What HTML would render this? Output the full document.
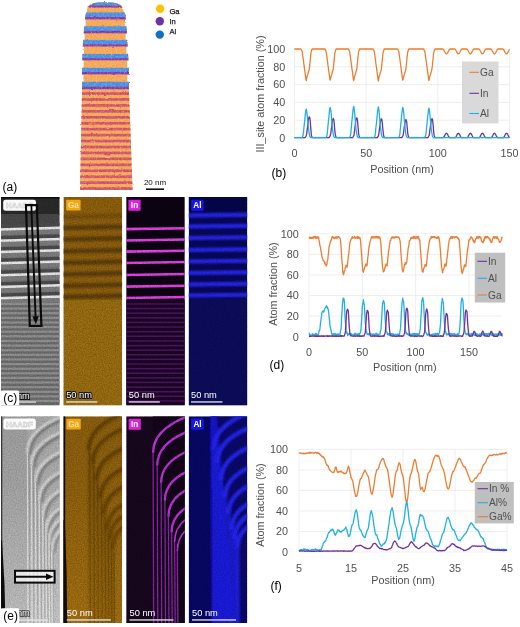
<!DOCTYPE html>
<html><head><meta charset="utf-8"><title>Figure</title>
<style>
html,body{margin:0;padding:0;background:#fff;}
body{width:520px;height:627px;overflow:hidden;}
svg{display:block;font-family:"Liberation Sans",sans-serif;}
</style></head><body>
<svg width="520" height="627" viewBox="0 0 520 627">
<defs>
<filter id="noise" x="0" y="0" width="100%" height="100%">
<feTurbulence type="fractalNoise" baseFrequency="0.85" numOctaves="2" seed="4" result="t"/>
<feColorMatrix type="matrix" values="0 0 0 0 0  0 0 0 0 0  0 0 0 0 0  1.6 0 0 0 -0.45"/>
</filter>
<filter id="noisew" x="0" y="0" width="100%" height="100%">
<feTurbulence type="fractalNoise" baseFrequency="0.55" numOctaves="2" seed="9" result="t"/>
<feColorMatrix type="matrix" values="0 0 0 0 1  0 0 0 0 1  0 0 0 0 1  0 1.6 0 0 -0.5"/>
</filter>
<filter id="b04"><feGaussianBlur stdDeviation="0.45"/></filter>
<filter id="b05"><feGaussianBlur stdDeviation="0.5"/></filter>
<filter id="b08"><feGaussianBlur stdDeviation="0.8"/></filter>
<filter id="b12"><feGaussianBlur stdDeviation="1.2"/></filter>
<filter id="rough" x="-5%" y="-5%" width="110%" height="110%">
<feTurbulence type="fractalNoise" baseFrequency="0.45" numOctaves="2" seed="2" result="t"/>
<feDisplacementMap in="SourceGraphic" in2="t" scale="2.0" xChannelSelector="R" yChannelSelector="G"/>
</filter>
<filter id="wavy" x="-5%" y="-5%" width="110%" height="110%">
<feTurbulence type="fractalNoise" baseFrequency="0.07 0.15" numOctaves="1" seed="5" result="t"/>
<feDisplacementMap in="SourceGraphic" in2="t" scale="2.2" xChannelSelector="R" yChannelSelector="G"/>
</filter>
<clipPath id="wire"><path d="M87.5,8 Q89,4 97,2.6 Q105,1.6 113,2.6 Q121,4 122.6,8 L125.5,15 L126.6,29 L127.4,42 L128.2,56 L129,70 L129,92 L132.6,190 L80,190 L82,92 L82,70 L82.4,56 L83,42 L84,29 L85.5,15 Z"/></clipPath>

<clipPath id="cch"><rect x="1.0" y="197.0" width="58.6" height="208.3"/></clipPath>
<clipPath id="ceh"><rect x="1.0" y="416.3" width="58.6" height="206.7"/></clipPath>
<clipPath id="ccg"><rect x="63.5" y="197.0" width="58.6" height="208.3"/></clipPath>
<clipPath id="ceg"><rect x="63.5" y="416.3" width="58.6" height="206.7"/></clipPath>
<clipPath id="cci"><rect x="126.2" y="197.0" width="58.6" height="208.3"/></clipPath>
<clipPath id="cei"><rect x="126.2" y="416.3" width="58.6" height="206.7"/></clipPath>
<clipPath id="cca"><rect x="188.7" y="197.0" width="58.6" height="208.3"/></clipPath>
<clipPath id="cea"><rect x="188.7" y="416.3" width="58.6" height="206.7"/></clipPath>
<linearGradient id="gdown" x1="0" y1="0" x2="0" y2="1"><stop offset="0" stop-color="#fff" stop-opacity="0"/><stop offset="0.3" stop-color="#fff" stop-opacity="0.04"/><stop offset="1" stop-color="#fff" stop-opacity="0.36"/></linearGradient>
<linearGradient id="gdown2" x1="0" y1="0" x2="0" y2="1"><stop offset="0" stop-color="#ffb020" stop-opacity="0"/><stop offset="0.35" stop-color="#ffb020" stop-opacity="0.03"/><stop offset="1" stop-color="#ffb020" stop-opacity="0.22"/></linearGradient>
</defs>
<rect width="520" height="627" fill="#fff"/>
<g filter="url(#b04)"><g filter="url(#rough)"><g clip-path="url(#wire)">
<rect x="70" y="0" width="75" height="195" fill="#f6a24e"/>
<rect x="70" y="2.2" width="75" height="3.4" fill="#3f8be0"/>
<rect x="70" y="5.4" width="75" height="2.2" fill="#7b33a6"/>
<rect x="70" y="12.4" width="75" height="4.8" fill="#3f8be0"/>
<rect x="70" y="17.0" width="75" height="2.4" fill="#7b33a6"/>
<rect x="70" y="26.3" width="75" height="4.8" fill="#3f8be0"/>
<rect x="70" y="30.9" width="75" height="2.4" fill="#7b33a6"/>
<rect x="70" y="39.9" width="75" height="4.5" fill="#3f8be0"/>
<rect x="70" y="44.2" width="75" height="2.3" fill="#7b33a6"/>
<rect x="70" y="53.9" width="75" height="4.4" fill="#3f8be0"/>
<rect x="70" y="58.1" width="75" height="2.2" fill="#7b33a6"/>
<rect x="70" y="67.8" width="75" height="4.4" fill="#3f8be0"/>
<rect x="70" y="72.0" width="75" height="2.4" fill="#7b33a6"/>
<rect x="70" y="81.8" width="75" height="5.1" fill="#3f8be0"/>
<rect x="70" y="86.7" width="75" height="2.5" fill="#7b33a6"/>
<g filter="url(#wavy)">
<rect x="60" y="92.2" width="95" height="2.7" fill="#cb4a64"/>
<rect x="60" y="98.1" width="95" height="2.7" fill="#cb4a64"/>
<rect x="60" y="104.1" width="95" height="2.7" fill="#cb4a64"/>
<rect x="60" y="110.0" width="95" height="2.7" fill="#cb4a64"/>
<rect x="60" y="116.0" width="95" height="2.7" fill="#cb4a64"/>
<rect x="60" y="121.9" width="95" height="2.7" fill="#cb4a64"/>
<rect x="60" y="127.8" width="95" height="2.7" fill="#cb4a64"/>
<rect x="60" y="133.8" width="95" height="2.7" fill="#cb4a64"/>
<rect x="60" y="139.7" width="95" height="2.7" fill="#cb4a64"/>
<rect x="60" y="145.7" width="95" height="2.7" fill="#cb4a64"/>
<rect x="60" y="151.6" width="95" height="2.7" fill="#cb4a64"/>
<rect x="60" y="157.5" width="95" height="2.7" fill="#cb4a64"/>
<rect x="60" y="163.5" width="95" height="2.7" fill="#cb4a64"/>
<rect x="60" y="169.4" width="95" height="2.7" fill="#cb4a64"/>
<rect x="60" y="175.4" width="95" height="2.7" fill="#cb4a64"/>
<rect x="60" y="181.3" width="95" height="2.7" fill="#cb4a64"/>
<rect x="60" y="187.2" width="95" height="2.7" fill="#cb4a64"/>
</g>
</g>
<rect x="83.9" y="8.1" width="3.2" height="4.0" fill="#fff"/>
<rect x="123.7" y="8.1" width="3.2" height="4.0" fill="#fff"/>
<rect x="82.4" y="19.9" width="3.2" height="6.1" fill="#fff"/>
<rect x="124.8" y="19.9" width="3.2" height="6.1" fill="#fff"/>
<rect x="81.4" y="33.8" width="3.2" height="5.8" fill="#fff"/>
<rect x="125.6" y="33.8" width="3.2" height="5.8" fill="#fff"/>
<rect x="80.8" y="47.0" width="3.2" height="6.6" fill="#fff"/>
<rect x="126.4" y="47.0" width="3.2" height="6.6" fill="#fff"/>
<rect x="80.4" y="60.8" width="3.2" height="6.7" fill="#fff"/>
<rect x="127.2" y="60.8" width="3.2" height="6.7" fill="#fff"/>
<rect x="80.4" y="74.9" width="3.2" height="6.6" fill="#fff"/>
<rect x="127.2" y="74.9" width="3.2" height="6.6" fill="#fff"/>
</g></g>
<rect x="70" y="0" width="75" height="195" fill="#fff" filter="url(#noisew)" opacity="0.3" clip-path="url(#wire)"/>
<circle cx="160.1" cy="8.7" r="4.2" fill="#ffc000" filter="url(#b04)"/>
<text x="169.4" y="13.6" font-size="7.6" fill="#1a1a1a" stroke="#1a1a1a" stroke-width="0.25">Ga</text>
<circle cx="159.8" cy="21.3" r="4.2" fill="#7030a0" filter="url(#b04)"/>
<text x="169.4" y="23.7" font-size="7.6" fill="#1a1a1a" stroke="#1a1a1a" stroke-width="0.25">In</text>
<circle cx="159.8" cy="34.6" r="4.2" fill="#0f6fc6" filter="url(#b04)"/>
<text x="169.4" y="34.4" font-size="7.6" fill="#1a1a1a" stroke="#1a1a1a" stroke-width="0.25">Al</text>
<text x="155" y="185" text-anchor="middle" font-size="8" fill="#111">20 nm</text>
<rect x="146" y="188.4" width="18" height="1.6" fill="#111"/>
<text x="2.6" y="191.4" font-size="12" fill="#000">(a)</text>
<g clip-path="url(#cch)">
<rect x="1.0" y="197.0" width="58.6" height="208.3" fill="#727272"/>
<rect x="1.0" y="197.0" width="58.6" height="18" fill="#2b2b2b"/>
<rect x="1.0" y="214.0" width="58.6" height="11" fill="#4a4a4a"/>
<rect x="1.0" y="197.0" width="58.6" height="1.6" fill="#101010"/>
<rect x="1.0" y="300" width="58.6" height="106" fill="#6f6f6f"/>
<g filter="url(#b05)">
<g transform="rotate(-1.6 31.0 228.8)">
<rect x="-1.0" y="223.9" width="62.6" height="3.4" fill="#4e4e4e"/>
<rect x="-1.0" y="229.9" width="62.6" height="4.5" fill="#808080"/>
<rect x="-1.0" y="227.4" width="62.6" height="2.5" fill="#f0f0f0"/>
</g>
<g transform="rotate(-1.6 31.0 240.0)">
<rect x="-1.0" y="235.2" width="62.6" height="3.4" fill="#4e4e4e"/>
<rect x="-1.0" y="241.2" width="62.6" height="4.5" fill="#808080"/>
<rect x="-1.0" y="238.7" width="62.6" height="2.5" fill="#f0f0f0"/>
</g>
<g transform="rotate(-1.6 31.0 251.2)">
<rect x="-1.0" y="246.4" width="62.6" height="3.4" fill="#4e4e4e"/>
<rect x="-1.0" y="252.4" width="62.6" height="4.5" fill="#808080"/>
<rect x="-1.0" y="249.9" width="62.6" height="2.5" fill="#f0f0f0"/>
</g>
<g transform="rotate(-1.6 31.0 262.5)">
<rect x="-1.0" y="257.7" width="62.6" height="3.4" fill="#4e4e4e"/>
<rect x="-1.0" y="263.7" width="62.6" height="4.5" fill="#808080"/>
<rect x="-1.0" y="261.2" width="62.6" height="2.5" fill="#f0f0f0"/>
</g>
<g transform="rotate(-1.6 31.0 274.5)">
<rect x="-1.0" y="269.7" width="62.6" height="3.4" fill="#4e4e4e"/>
<rect x="-1.0" y="275.7" width="62.6" height="4.5" fill="#808080"/>
<rect x="-1.0" y="273.2" width="62.6" height="2.5" fill="#f0f0f0"/>
</g>
<g transform="rotate(-1.6 31.0 286.2)">
<rect x="-1.0" y="281.4" width="62.6" height="3.4" fill="#4e4e4e"/>
<rect x="-1.0" y="287.4" width="62.6" height="4.5" fill="#808080"/>
<rect x="-1.0" y="284.9" width="62.6" height="2.5" fill="#f0f0f0"/>
</g>
<g transform="rotate(-1.6 31.0 297.5)">
<rect x="-1.0" y="292.7" width="62.6" height="3.4" fill="#4e4e4e"/>
<rect x="-1.0" y="298.7" width="62.6" height="4.5" fill="#808080"/>
<rect x="-1.0" y="296.2" width="62.6" height="2.5" fill="#f0f0f0"/>
</g>
<rect x="-1.0" y="302.9" width="62.6" height="2.2" fill="#969696"/>
<rect x="-1.0" y="307.5" width="62.6" height="2.2" fill="#969696"/>
<rect x="-1.0" y="312.1" width="62.6" height="2.2" fill="#969696"/>
<rect x="-1.0" y="316.8" width="62.6" height="2.2" fill="#969696"/>
<rect x="-1.0" y="321.4" width="62.6" height="2.2" fill="#969696"/>
<rect x="-1.0" y="326.0" width="62.6" height="2.2" fill="#969696"/>
<rect x="-1.0" y="330.6" width="62.6" height="2.2" fill="#969696"/>
<rect x="-1.0" y="335.2" width="62.6" height="2.2" fill="#969696"/>
<rect x="-1.0" y="339.9" width="62.6" height="2.2" fill="#969696"/>
<rect x="-1.0" y="344.5" width="62.6" height="2.2" fill="#969696"/>
<rect x="-1.0" y="349.1" width="62.6" height="2.2" fill="#969696"/>
<rect x="-1.0" y="353.7" width="62.6" height="2.2" fill="#969696"/>
<rect x="-1.0" y="358.3" width="62.6" height="2.2" fill="#969696"/>
<rect x="-1.0" y="363.0" width="62.6" height="2.2" fill="#969696"/>
<rect x="-1.0" y="367.6" width="62.6" height="2.2" fill="#969696"/>
<rect x="-1.0" y="372.2" width="62.6" height="2.2" fill="#969696"/>
<rect x="-1.0" y="376.8" width="62.6" height="2.2" fill="#969696"/>
<rect x="-1.0" y="381.4" width="62.6" height="2.2" fill="#969696"/>
<rect x="-1.0" y="386.1" width="62.6" height="2.2" fill="#969696"/>
<rect x="-1.0" y="390.7" width="62.6" height="2.2" fill="#969696"/>
<rect x="-1.0" y="395.3" width="62.6" height="2.2" fill="#969696"/>
<rect x="-1.0" y="399.9" width="62.6" height="2.2" fill="#969696"/>
</g>
<rect x="1.0" y="197.0" width="58.6" height="208.3" filter="url(#noise)" opacity="0.2"/>
<rect x="3.2" y="199.7" width="32.8" height="11.1" rx="2.4" fill="#fafafa"/>
<text x="19.4" y="208.4" text-anchor="middle" font-size="7.6" font-weight="bold" fill="#fafafa" stroke="#c8c8c8" stroke-width="0.5">HAADF</text>
<path d="M26.0,205.2 L36.8,205.2 L41.4,326 L29.8,326 Z" fill="none" stroke="#0a0a0a" stroke-width="2.2"/>
<line x1="31.3" y1="205" x2="35.6" y2="318" stroke="#0a0a0a" stroke-width="1.9"/>
<path d="M32.4,316.6 L38.8,316.2 L35.8,324.2 Z" fill="#0a0a0a"/>
<rect x="27.4" y="206.6" width="2.8" height="3.6" fill="#f4f4f4"/>
<text x="16.9" y="398.6" font-size="9.3" fill="#fff" stroke="#111" stroke-width="1.8" paint-order="stroke">nm</text>
<rect x="5" y="401.3" width="31" height="1.5" fill="#cfcfcf"/>
<rect x="0.8" y="390.6" width="18.4" height="15.4" rx="1.5" fill="#fff"/>
<text x="3.3" y="402.3" font-size="12" fill="#000">(c)</text>
</g>
<g clip-path="url(#ccg)">
<rect x="63.5" y="197.0" width="58.6" height="208.3" fill="#94640f"/>
<rect x="63.5" y="300" width="58.6" height="106" fill="#a07212"/>
<g filter="url(#b08)">
<rect x="61.5" y="214.0" width="62.6" height="4.6" fill="#5e3e07" opacity="0.45" transform="rotate(-1.2 93.5 215.0)"/>
<rect x="61.5" y="225.0" width="62.6" height="4.6" fill="#5e3e07" opacity="0.95" transform="rotate(-1.2 93.5 226.0)"/>
<rect x="61.5" y="236.5" width="62.6" height="4.6" fill="#5e3e07" opacity="0.95" transform="rotate(-1.2 93.5 237.5)"/>
<rect x="61.5" y="248.5" width="62.6" height="4.6" fill="#5e3e07" opacity="0.95" transform="rotate(-1.2 93.5 249.5)"/>
<rect x="61.5" y="260.0" width="62.6" height="4.6" fill="#5e3e07" opacity="0.95" transform="rotate(-1.2 93.5 261.0)"/>
<rect x="61.5" y="271.5" width="62.6" height="4.6" fill="#5e3e07" opacity="0.95" transform="rotate(-1.2 93.5 272.5)"/>
<rect x="61.5" y="283.0" width="62.6" height="4.6" fill="#5e3e07" opacity="0.95" transform="rotate(-1.2 93.5 284.0)"/>
<rect x="61.5" y="294.0" width="62.6" height="4.6" fill="#5e3e07" opacity="0.95" transform="rotate(-1.2 93.5 295.0)"/>
</g>
<rect x="63.5" y="197.0" width="58.6" height="208.3" filter="url(#noise)" opacity="0.28"/>
<rect x="66.2" y="199.8" width="14.4" height="10.8" rx="0.8" fill="#f0a818"/>
<text x="73.4" y="208.0" text-anchor="middle" font-size="8.2" font-weight="bold" fill="#ffdf9a">Ga</text>
<text x="66.2" y="398.4" font-size="9.3" fill="#fff" stroke="#111" stroke-width="2" paint-order="stroke" stroke-linejoin="round">50 nm</text>
<rect x="66.2" y="401.3" width="31.0" height="1.3" fill="#e6e6e6"/>
</g>
<g clip-path="url(#cci)">
<rect x="126.2" y="197.0" width="58.6" height="208.3" fill="#0e0414"/>
<rect x="126.2" y="300" width="58.6" height="106" fill="#1c0726"/>
<g filter="url(#b05)">
<rect x="124.2" y="227.4" width="62.6" height="2.6" fill="#ee44f2" transform="rotate(-0.8 156.2 228.8)"/>
<rect x="124.2" y="238.7" width="62.6" height="2.6" fill="#ee44f2" transform="rotate(-0.8 156.2 240.0)"/>
<rect x="124.2" y="249.9" width="62.6" height="2.6" fill="#ee44f2" transform="rotate(-0.8 156.2 251.2)"/>
<rect x="124.2" y="261.2" width="62.6" height="2.6" fill="#ee44f2" transform="rotate(-0.8 156.2 262.5)"/>
<rect x="124.2" y="273.2" width="62.6" height="2.6" fill="#ee44f2" transform="rotate(-0.8 156.2 274.5)"/>
<rect x="124.2" y="284.9" width="62.6" height="2.6" fill="#ee44f2" transform="rotate(-0.8 156.2 286.2)"/>
<rect x="124.2" y="296.2" width="62.6" height="2.6" fill="#ee44f2" transform="rotate(-0.8 156.2 297.5)"/>
<rect x="124.2" y="303.2" width="62.6" height="1.5" fill="#521468"/>
<rect x="124.2" y="307.8" width="62.6" height="1.5" fill="#521468"/>
<rect x="124.2" y="312.4" width="62.6" height="1.5" fill="#521468"/>
<rect x="124.2" y="317.1" width="62.6" height="1.5" fill="#521468"/>
<rect x="124.2" y="321.7" width="62.6" height="1.5" fill="#521468"/>
<rect x="124.2" y="326.3" width="62.6" height="1.5" fill="#521468"/>
<rect x="124.2" y="330.9" width="62.6" height="1.5" fill="#521468"/>
<rect x="124.2" y="335.5" width="62.6" height="1.5" fill="#521468"/>
<rect x="124.2" y="340.2" width="62.6" height="1.5" fill="#521468"/>
<rect x="124.2" y="344.8" width="62.6" height="1.5" fill="#521468"/>
<rect x="124.2" y="349.4" width="62.6" height="1.5" fill="#521468"/>
<rect x="124.2" y="354.0" width="62.6" height="1.5" fill="#521468"/>
<rect x="124.2" y="358.6" width="62.6" height="1.5" fill="#521468"/>
<rect x="124.2" y="363.3" width="62.6" height="1.5" fill="#521468"/>
<rect x="124.2" y="367.9" width="62.6" height="1.5" fill="#521468"/>
<rect x="124.2" y="372.5" width="62.6" height="1.5" fill="#521468"/>
<rect x="124.2" y="377.1" width="62.6" height="1.5" fill="#521468"/>
<rect x="124.2" y="381.7" width="62.6" height="1.5" fill="#521468"/>
<rect x="124.2" y="386.4" width="62.6" height="1.5" fill="#521468"/>
<rect x="124.2" y="391.0" width="62.6" height="1.5" fill="#521468"/>
<rect x="124.2" y="395.6" width="62.6" height="1.5" fill="#521468"/>
<rect x="124.2" y="400.2" width="62.6" height="1.5" fill="#521468"/>
</g>
<rect x="126.2" y="197.0" width="58.6" height="208.3" filter="url(#noise)" opacity="0.28"/>
<rect x="128.4" y="199.8" width="12.2" height="11.0" rx="0.8" fill="#dd22dd"/>
<text x="134.5" y="208.2" text-anchor="middle" font-size="8.2" font-weight="bold" fill="#fff">In</text>
<text x="128.8" y="398.4" font-size="9.3" fill="#fff">50 nm</text>
<rect x="128.8" y="401.3" width="31.0" height="1.3" fill="#e6e6e6"/>
</g>
<g clip-path="url(#cca)">
<rect x="188.7" y="197.0" width="58.6" height="208.3" fill="#08085e"/>
<rect x="188.7" y="197.0" width="58.6" height="14" fill="#06064e"/>
<rect x="188.7" y="299" width="58.6" height="107" fill="#0d0d60"/>
<g filter="url(#b08)">
<rect x="186.7" y="213.1" width="62.6" height="4.0" fill="#2a2aff" transform="rotate(-0.8 218.7 215.0)"/>
<rect x="186.7" y="224.1" width="62.6" height="4.0" fill="#2a2aff" transform="rotate(-0.8 218.7 226.0)"/>
<rect x="186.7" y="235.6" width="62.6" height="4.0" fill="#2a2aff" transform="rotate(-0.8 218.7 237.5)"/>
<rect x="186.7" y="247.6" width="62.6" height="4.0" fill="#2a2aff" transform="rotate(-0.8 218.7 249.5)"/>
<rect x="186.7" y="259.1" width="62.6" height="4.0" fill="#2a2aff" transform="rotate(-0.8 218.7 261.0)"/>
<rect x="186.7" y="270.6" width="62.6" height="4.0" fill="#2a2aff" transform="rotate(-0.8 218.7 272.5)"/>
<rect x="186.7" y="282.1" width="62.6" height="4.0" fill="#2a2aff" transform="rotate(-0.8 218.7 284.0)"/>
<rect x="186.7" y="293.1" width="62.6" height="4.0" fill="#2a2aff" transform="rotate(-0.8 218.7 295.0)"/>
</g>
<rect x="188.7" y="197.0" width="58.6" height="208.3" filter="url(#noise)" opacity="0.28"/>
<rect x="191.2" y="199.8" width="12.4" height="11.0" rx="0.8" fill="#1616e6"/>
<text x="197.4" y="208.2" text-anchor="middle" font-size="8.2" font-weight="bold" fill="#fff">Al</text>
<text x="191.0" y="398.4" font-size="9.3" fill="#fff">50 nm</text>
<rect x="191.0" y="401.3" width="31.5" height="1.3" fill="#e6e6e6"/>
</g>
<g clip-path="url(#ceh)">
<rect x="1.0" y="416.3" width="58.6" height="206.7" fill="#a3a3a3"/>
<rect x="27.0" y="416.3" width="34" height="206.7" fill="#adadad"/>
<g filter="url(#b08)" fill="none">
<path d="M29.9,454.7 C29.9,440.2 40.6,428.5 60.5,420.3" stroke="#7c7c7c" stroke-width="3.4"/>
<path d="M34.0,467.5 C34.0,454.1 43.3,443.3 60.5,435.6" stroke="#7c7c7c" stroke-width="3.4"/>
<path d="M37.9,484.8 C37.9,472.3 45.8,462.3 60.5,455.2" stroke="#7c7c7c" stroke-width="3.4"/>
<path d="M41.7,502.6 C41.7,491.1 48.3,481.8 60.5,475.3" stroke="#7c7c7c" stroke-width="3.4"/>
<path d="M45.2,518.7 C45.2,508.1 50.6,499.5 60.5,493.5" stroke="#7c7c7c" stroke-width="3.4"/>
<path d="M48.4,534.5 C48.4,524.7 52.6,516.8 60.5,511.2" stroke="#7c7c7c" stroke-width="3.4"/>
<path d="M51.4,544.0 C51.4,534.9 54.6,527.7 60.5,522.5" stroke="#7c7c7c" stroke-width="3.4"/>
<path d="M54.1,553.3 C54.1,545.0 56.3,538.3 60.5,533.5" stroke="#7c7c7c" stroke-width="3.4"/>
<path d="M27.3,453.0 C27.3,437.9 38.9,425.7 60.5,417.1" stroke="#efefef" stroke-width="2.0"/>
<path d="M31.4,465.9 C31.4,451.8 41.6,440.4 60.5,432.4" stroke="#efefef" stroke-width="2.0"/>
<path d="M35.3,483.1 C35.3,470.0 44.1,459.5 60.5,452.0" stroke="#efefef" stroke-width="2.0"/>
<path d="M39.1,500.9 C39.1,488.8 46.6,479.0 60.5,472.1" stroke="#efefef" stroke-width="2.0"/>
<path d="M42.6,517.0 C42.6,505.8 48.9,496.7 60.5,490.3" stroke="#efefef" stroke-width="2.0"/>
<path d="M45.8,532.8 C45.8,522.4 50.9,514.0 60.5,508.0" stroke="#efefef" stroke-width="2.0"/>
<path d="M48.8,542.3 C48.8,532.7 52.9,524.8 60.5,519.3" stroke="#efefef" stroke-width="2.0"/>
<path d="M51.5,551.7 C51.5,542.7 54.6,535.4 60.5,530.3" stroke="#efefef" stroke-width="2.0"/>
</g>
<g filter="url(#b04)" fill="none">
<path d="M29.7,625.0 L29.1,455.1" stroke="#949494" stroke-width="1.1"/>
<path d="M28.0,625.0 L27.4,453.0" stroke="#dedede" stroke-width="1.2"/>
<path d="M33.8,625.0 L33.2,468.0" stroke="#949494" stroke-width="1.1"/>
<path d="M32.1,625.0 L31.5,465.8" stroke="#dedede" stroke-width="1.2"/>
<path d="M37.7,625.0 L37.1,485.2" stroke="#949494" stroke-width="1.1"/>
<path d="M36.0,625.0 L35.4,483.1" stroke="#dedede" stroke-width="1.2"/>
<path d="M41.5,625.0 L40.9,503.1" stroke="#949494" stroke-width="1.1"/>
<path d="M39.8,625.0 L39.2,500.9" stroke="#dedede" stroke-width="1.2"/>
<path d="M45.0,625.0 L44.4,519.2" stroke="#949494" stroke-width="1.1"/>
<path d="M43.3,625.0 L42.7,517.0" stroke="#dedede" stroke-width="1.2"/>
<path d="M48.2,625.0 L47.6,534.9" stroke="#949494" stroke-width="1.1"/>
<path d="M46.5,625.0 L45.9,532.8" stroke="#dedede" stroke-width="1.2"/>
<path d="M51.2,625.0 L50.6,544.4" stroke="#949494" stroke-width="1.1"/>
<path d="M49.5,625.0 L48.9,542.3" stroke="#dedede" stroke-width="1.2"/>
<path d="M53.9,625.0 L53.3,553.8" stroke="#949494" stroke-width="1.1"/>
<path d="M52.2,625.0 L51.6,551.6" stroke="#dedede" stroke-width="1.2"/>
</g>
<rect x="1.0" y="416.3" width="58.6" height="206.7" fill="url(#gdown)"/>
<rect x="0.7" y="416.3" width="1.6" height="206.7" fill="#3a3a3a" filter="url(#b05)"/>
<path d="M0.0,540 L2.0,540 L4.5,585 L5.5,624 L0.0,624 Z" fill="#0c0c0c" filter="url(#b05)"/>
<rect x="1.0" y="416.3" width="58.6" height="206.7" filter="url(#noise)" opacity="0.18"/>
<rect x="15" y="570.8" width="39.6" height="11.8" fill="#fff" fill-opacity="0.7" stroke="#0a0a0a" stroke-width="2"/>
<line x1="16" y1="576.7" x2="48" y2="576.7" stroke="#0a0a0a" stroke-width="2"/>
<path d="M46,573.4 L53.5,576.7 L46,580 Z" fill="#0a0a0a"/>
<rect x="3.4" y="418.5" width="32.4" height="11.1" rx="2.4" fill="#fafafa"/>
<text x="19.6" y="427.0" text-anchor="middle" font-size="7.6" font-weight="bold" fill="#fafafa" stroke="#c4c4c4" stroke-width="0.5">HAADF</text>
<text x="16.9" y="616.4" font-size="9.3" fill="#fff" stroke="#333" stroke-width="1.6" paint-order="stroke">nm</text>
<rect x="5" y="619.3" width="43" height="1.6" fill="#e0e0e0"/>
<rect x="0.8" y="608.2" width="18.4" height="15.4" rx="1.5" fill="#fff"/>
<text x="3.3" y="619.8" font-size="12" fill="#000">(e)</text>
</g>
<g clip-path="url(#ceg)">
<rect x="63.5" y="416.3" width="58.6" height="206.7" fill="#93640f"/>
<g filter="url(#b08)" fill="none">
<path d="M88.4,450.3 C88.4,434.8 100.5,422.3 123.0,413.5" stroke="#5a3a06" stroke-width="3.4" opacity="0.85"/>
<path d="M89.6,625.0 L89.0,449.9" stroke="#5a3a06" stroke-width="1.6" opacity="0.7"/>
<path d="M92.5,463.1 C92.5,448.7 103.2,437.0 123.0,428.8" stroke="#5a3a06" stroke-width="3.4" opacity="0.85"/>
<path d="M93.7,625.0 L93.1,462.7" stroke="#5a3a06" stroke-width="1.6" opacity="0.7"/>
<path d="M96.4,480.4 C96.4,466.9 105.7,456.1 123.0,448.4" stroke="#5a3a06" stroke-width="3.4" opacity="0.85"/>
<path d="M97.6,625.0 L97.0,480.0" stroke="#5a3a06" stroke-width="1.6" opacity="0.7"/>
<path d="M100.2,498.2 C100.2,485.7 108.2,475.6 123.0,468.5" stroke="#5a3a06" stroke-width="3.4" opacity="0.85"/>
<path d="M101.4,625.0 L100.8,497.8" stroke="#5a3a06" stroke-width="1.6" opacity="0.7"/>
<path d="M103.7,514.3 C103.7,502.7 110.5,493.3 123.0,486.7" stroke="#5a3a06" stroke-width="3.4" opacity="0.85"/>
<path d="M104.9,625.0 L104.3,513.9" stroke="#5a3a06" stroke-width="1.6" opacity="0.7"/>
<path d="M106.9,530.1 C106.9,519.3 112.5,510.6 123.0,504.4" stroke="#5a3a06" stroke-width="3.4" opacity="0.85"/>
<path d="M108.1,625.0 L107.5,529.7" stroke="#5a3a06" stroke-width="1.6" opacity="0.7"/>
<path d="M109.9,539.6 C109.9,529.5 114.5,521.4 123.0,515.7" stroke="#5a3a06" stroke-width="3.4" opacity="0.85"/>
<path d="M111.1,625.0 L110.5,539.2" stroke="#5a3a06" stroke-width="1.6" opacity="0.7"/>
<path d="M112.6,548.9 C112.6,539.6 116.2,532.0 123.0,526.7" stroke="#5a3a06" stroke-width="3.4" opacity="0.85"/>
<path d="M113.8,625.0 L113.2,548.6" stroke="#5a3a06" stroke-width="1.6" opacity="0.7"/>
<path d="M90.4,452.7 C90.4,437.7 101.8,425.6 123.0,417.1" stroke="#6a4508" stroke-width="1.0" opacity="0.8"/>
<path d="M94.5,465.5 C94.5,451.6 104.5,440.3 123.0,432.4" stroke="#6a4508" stroke-width="1.0" opacity="0.8"/>
<path d="M98.4,482.8 C98.4,469.8 107.0,459.4 123.0,452.0" stroke="#6a4508" stroke-width="1.0" opacity="0.8"/>
<path d="M102.2,500.6 C102.2,488.6 109.5,478.9 123.0,472.1" stroke="#6a4508" stroke-width="1.0" opacity="0.8"/>
<path d="M105.7,516.7 C105.7,505.6 111.8,496.6 123.0,490.3" stroke="#6a4508" stroke-width="1.0" opacity="0.8"/>
<path d="M108.9,532.5 C108.9,522.2 113.8,513.9 123.0,508.0" stroke="#6a4508" stroke-width="1.0" opacity="0.8"/>
<path d="M111.9,542.0 C111.9,532.4 115.8,524.7 123.0,519.3" stroke="#6a4508" stroke-width="1.0" opacity="0.8"/>
<path d="M114.6,551.3 C114.6,542.5 117.5,535.3 123.0,530.3" stroke="#6a4508" stroke-width="1.0" opacity="0.8"/>
</g>
<g filter="url(#b04)" fill="none">
<path d="M90.4,625.0 L89.8,453.0" stroke="#4e3204" stroke-width="1.0" opacity="0.6"/>
<path d="M94.5,625.0 L93.9,465.9" stroke="#4e3204" stroke-width="1.0" opacity="0.6"/>
<path d="M98.4,625.0 L97.8,483.1" stroke="#4e3204" stroke-width="1.0" opacity="0.6"/>
<path d="M102.2,625.0 L101.6,500.9" stroke="#4e3204" stroke-width="1.0" opacity="0.6"/>
<path d="M105.7,625.0 L105.1,517.0" stroke="#4e3204" stroke-width="1.0" opacity="0.6"/>
<path d="M108.9,625.0 L108.3,532.8" stroke="#4e3204" stroke-width="1.0" opacity="0.6"/>
<path d="M111.9,625.0 L111.3,542.3" stroke="#4e3204" stroke-width="1.0" opacity="0.6"/>
<path d="M114.6,625.0 L114.0,551.7" stroke="#4e3204" stroke-width="1.0" opacity="0.6"/>
</g>
<rect x="63.5" y="416.3" width="58.6" height="206.7" fill="url(#gdown2)"/>
<rect x="63.0" y="416.3" width="2.2" height="206.7" fill="#140a00" filter="url(#b05)"/>
<path d="M62.5,520 L64.8,520 L66.5,570 L67.3,624 L62.5,624 Z" fill="#140a00" filter="url(#b05)"/>
<rect x="63.5" y="416.3" width="58.6" height="206.7" filter="url(#noise)" opacity="0.28"/>
<rect x="66.4" y="418.8" width="14.4" height="10.8" rx="0.8" fill="#f0a818"/>
<text x="73.6" y="427.0" text-anchor="middle" font-size="8.2" font-weight="bold" fill="#ffdf9a">Ga</text>
<text x="66.8" y="616.4" font-size="9.3" fill="#fff">50 nm</text>
<rect x="66.8" y="619.3" width="44.0" height="1.3" fill="#e6e6e6"/>
</g>
<g clip-path="url(#cei)">
<rect x="126.2" y="416.3" width="58.6" height="206.7" fill="#190820"/>
<rect x="153.2" y="416.3" width="34" height="206.7" fill="#16061c"/>
<g filter="url(#b05)" fill="none">
<path d="M153.7,625.0 L153.1,452.7" stroke="#9226b0" stroke-width="1.3"/>
<path d="M153.1,452.7 C153.1,437.7 164.5,425.6 185.7,417.1" stroke="#c634e2" stroke-width="2.3" />
<path d="M157.8,625.0 L157.2,465.5" stroke="#9226b0" stroke-width="1.3"/>
<path d="M157.2,465.5 C157.2,451.6 167.2,440.3 185.7,432.4" stroke="#c634e2" stroke-width="2.3" />
<path d="M161.7,625.0 L161.1,482.8" stroke="#9226b0" stroke-width="1.3"/>
<path d="M161.1,482.8 C161.1,469.8 169.7,459.4 185.7,452.0" stroke="#c634e2" stroke-width="2.3" />
<path d="M165.5,625.0 L164.9,500.6" stroke="#9226b0" stroke-width="1.3"/>
<path d="M164.9,500.6 C164.9,488.6 172.2,478.9 185.7,472.1" stroke="#c634e2" stroke-width="2.3" />
<path d="M169.0,625.0 L168.4,516.7" stroke="#9226b0" stroke-width="1.3"/>
<path d="M168.4,516.7 C168.4,505.6 174.5,496.6 185.7,490.3" stroke="#c634e2" stroke-width="2.3" />
<path d="M172.2,625.0 L171.6,532.5" stroke="#9226b0" stroke-width="1.3"/>
<path d="M171.6,532.5 C171.6,522.2 176.5,513.9 185.7,508.0" stroke="#c634e2" stroke-width="2.3" />
<path d="M175.2,625.0 L174.6,542.0" stroke="#9226b0" stroke-width="1.3"/>
<path d="M174.6,542.0 C174.6,532.4 178.5,524.7 185.7,519.3" stroke="#c634e2" stroke-width="1.6" />
<path d="M177.9,625.0 L177.3,551.3" stroke="#9226b0" stroke-width="1.3"/>
<path d="M177.3,551.3 C177.3,542.5 180.2,535.3 185.7,530.3" stroke="#c634e2" stroke-width="1.6" />
</g>
<rect x="126.2" y="416.3" width="58.6" height="206.7" filter="url(#noise)" opacity="0.3"/>
<rect x="128.6" y="418.8" width="12.2" height="11.0" rx="0.8" fill="#dd22dd"/>
<text x="134.7" y="427.2" text-anchor="middle" font-size="8.2" font-weight="bold" fill="#fff">In</text>
<text x="129.5" y="616.4" font-size="9.3" fill="#fff">50 nm</text>
<rect x="129.5" y="619.3" width="44.0" height="1.3" fill="#e6e6e6"/>
</g>
<g clip-path="url(#cea)">
<rect x="188.7" y="416.3" width="58.6" height="206.7" fill="#08086a"/>
<rect x="212.7" y="416.3" width="34" height="206.7" fill="#0a0a70"/>
<g filter="url(#b08)" fill="none">
<path d="M210.2,414.3 L216.7,414.3 L234.7,625.0 L211.7,625.0 Z" fill="#1616d8" stroke="none"/>
<path d="M213.2,449.9 C213.2,434.4 225.4,421.8 248.2,412.9" stroke="#2828ff" stroke-width="4.3"/>
<path d="M214.4,625.0 L213.8,449.5" stroke="#2020ee" stroke-width="2.6"/>
<path d="M217.3,462.7 C217.3,448.2 228.1,436.5 248.2,428.2" stroke="#2828ff" stroke-width="4.3"/>
<path d="M218.5,625.0 L217.9,462.4" stroke="#2020ee" stroke-width="2.6"/>
<path d="M221.2,480.0 C221.2,466.5 230.6,455.5 248.2,447.8" stroke="#2828ff" stroke-width="4.3"/>
<path d="M222.4,625.0 L221.8,479.6" stroke="#2020ee" stroke-width="2.6"/>
<path d="M225.0,497.8 C225.0,485.3 233.1,475.1 248.2,467.9" stroke="#2828ff" stroke-width="4.3"/>
<path d="M226.2,625.0 L225.6,497.5" stroke="#2020ee" stroke-width="2.6"/>
<path d="M228.5,513.9 C228.5,502.2 235.4,492.8 248.2,486.1" stroke="#2828ff" stroke-width="4.3"/>
<path d="M229.7,625.0 L229.1,513.6" stroke="#2020ee" stroke-width="2.6"/>
<path d="M231.7,529.7 C231.7,518.8 237.5,510.0 248.2,503.8" stroke="#2828ff" stroke-width="4.3"/>
<path d="M232.9,625.0 L232.3,529.3" stroke="#2020ee" stroke-width="2.6"/>
<path d="M234.7,539.2 C234.7,529.1 239.4,520.9 248.2,515.1" stroke="#2828ff" stroke-width="4.3"/>
<path d="M235.9,625.0 L235.3,538.8" stroke="#2020ee" stroke-width="2.6"/>
<path d="M237.4,548.6 C237.4,539.1 241.2,531.5 248.2,526.1" stroke="#2828ff" stroke-width="4.3"/>
<path d="M238.6,625.0 L238.0,548.2" stroke="#2020ee" stroke-width="2.6"/>
</g>
<rect x="188.7" y="416.3" width="58.6" height="206.7" filter="url(#noise)" opacity="0.3"/>
<rect x="191.2" y="418.4" width="12.6" height="11.4" rx="0.8" fill="#1616e6"/>
<text x="197.5" y="427.2" text-anchor="middle" font-size="8.2" font-weight="bold" fill="#fff">Al</text>
<text x="192.0" y="616.4" font-size="9.3" fill="#fff">50 nm</text>
<rect x="192.0" y="619.3" width="44.0" height="1.3" fill="#e6e6e6"/>
</g>
<line x1="294.5" x2="509.5" y1="138.0" y2="138.0" stroke="#e8e8e8" stroke-width="0.7"/>
<text x="285.3" y="141.8" text-anchor="end" font-size="10.8" fill="#4f4f4f">0</text>
<line x1="294.5" x2="509.5" y1="120.2" y2="120.2" stroke="#e8e8e8" stroke-width="0.7"/>
<text x="285.3" y="124.0" text-anchor="end" font-size="10.8" fill="#4f4f4f">20</text>
<line x1="294.5" x2="509.5" y1="102.4" y2="102.4" stroke="#e8e8e8" stroke-width="0.7"/>
<text x="285.3" y="106.2" text-anchor="end" font-size="10.8" fill="#4f4f4f">40</text>
<line x1="294.5" x2="509.5" y1="84.6" y2="84.6" stroke="#e8e8e8" stroke-width="0.7"/>
<text x="285.3" y="88.4" text-anchor="end" font-size="10.8" fill="#4f4f4f">60</text>
<line x1="294.5" x2="509.5" y1="66.8" y2="66.8" stroke="#e8e8e8" stroke-width="0.7"/>
<text x="285.3" y="70.6" text-anchor="end" font-size="10.8" fill="#4f4f4f">80</text>
<line x1="294.5" x2="509.5" y1="49.0" y2="49.0" stroke="#e8e8e8" stroke-width="0.7"/>
<text x="285.3" y="52.8" text-anchor="end" font-size="10.8" fill="#4f4f4f">100</text>
<line x1="294.5" x2="294.5" y1="138.0" y2="49.0" stroke="#e8e8e8" stroke-width="0.7"/>
<text x="294.5" y="156.8" text-anchor="middle" font-size="10.8" fill="#4f4f4f">0</text>
<line x1="366.2" x2="366.2" y1="138.0" y2="49.0" stroke="#e8e8e8" stroke-width="0.7"/>
<text x="366.2" y="156.8" text-anchor="middle" font-size="10.8" fill="#4f4f4f">50</text>
<line x1="437.8" x2="437.8" y1="138.0" y2="49.0" stroke="#e8e8e8" stroke-width="0.7"/>
<text x="437.8" y="156.8" text-anchor="middle" font-size="10.8" fill="#4f4f4f">100</text>
<line x1="509.5" x2="509.5" y1="138.0" y2="49.0" stroke="#e8e8e8" stroke-width="0.7"/>
<text x="509.5" y="156.8" text-anchor="middle" font-size="10.8" fill="#4f4f4f">150</text>
<text transform="translate(263.6,94.0) rotate(-90)" text-anchor="middle" font-size="10.8" fill="#4f4f4f">III_site atom fraction (%)</text>
<text x="402.0" y="172.6" text-anchor="middle" font-size="10.8" fill="#4f4f4f">Position (nm)</text>
<path d="M294.5,49.0 L294.9,49.0 L295.2,49.0 L295.6,49.0 L295.9,49.0 L296.3,49.0 L296.6,49.0 L297.0,49.0 L297.4,49.0 L297.7,49.0 L298.1,49.0 L298.4,49.0 L298.8,49.0 L299.2,49.0 L299.5,49.0 L299.9,49.0 L300.2,49.0 L300.6,49.0 L300.9,49.0 L301.3,49.7 L301.7,50.5 L302.0,51.2 L302.4,52.7 L302.7,55.4 L303.1,58.1 L303.5,60.7 L303.8,63.4 L304.2,66.1 L304.5,68.8 L304.9,71.4 L305.2,74.1 L305.6,76.8 L306.0,79.3 L306.3,80.6 L306.7,78.4 L307.0,76.8 L307.4,75.6 L307.8,74.4 L308.1,73.2 L308.5,72.1 L308.8,70.9 L309.2,69.7 L309.6,66.7 L309.9,63.1 L310.3,59.6 L310.6,56.1 L311.0,52.6 L311.3,51.4 L311.7,50.3 L312.1,49.2 L312.4,49.0 L312.8,49.0 L313.1,49.0 L313.5,49.0 L313.9,49.0 L314.2,49.0 L314.6,49.0 L314.9,49.0 L315.3,49.0 L315.6,49.0 L316.0,49.0 L316.4,49.0 L316.7,49.0 L317.1,49.0 L317.4,49.0 L317.8,49.0 L318.1,49.0 L318.5,49.0 L318.9,49.0 L319.2,49.0 L319.6,49.0 L319.9,49.0 L320.3,49.0 L320.7,49.0 L321.0,49.0 L321.4,49.0 L321.7,49.0 L322.1,49.0 L322.4,49.0 L322.8,49.0 L323.2,49.0 L323.5,49.0 L323.9,49.0 L324.2,49.0 L324.6,49.0 L325.0,49.1 L325.3,49.9 L325.7,50.6 L326.0,51.4 L326.4,53.3 L326.8,55.9 L327.1,58.6 L327.5,61.3 L327.8,64.0 L328.2,66.6 L328.5,69.3 L328.9,72.0 L329.3,74.6 L329.6,77.3 L330.0,79.7 L330.3,80.1 L330.7,77.9 L331.1,76.5 L331.4,75.4 L331.8,74.2 L332.1,73.0 L332.5,71.8 L332.8,70.6 L333.2,69.5 L333.6,65.9 L333.9,62.4 L334.3,58.9 L334.6,55.4 L335.0,52.3 L335.4,51.2 L335.7,50.1 L336.1,49.0 L336.4,49.0 L336.8,49.0 L337.1,49.0 L337.5,49.0 L337.9,49.0 L338.2,49.0 L338.6,49.0 L338.9,49.0 L339.3,49.0 L339.6,49.0 L340.0,49.0 L340.4,49.0 L340.7,49.0 L341.1,49.0 L341.4,49.0 L341.8,49.0 L342.2,49.0 L342.5,49.0 L342.9,49.0 L343.2,49.0 L343.6,49.0 L343.9,49.0 L344.3,49.0 L344.7,49.0 L345.0,49.0 L345.4,49.0 L345.7,49.0 L346.1,49.0 L346.5,49.0 L346.8,49.0 L347.2,49.0 L347.5,49.0 L347.9,49.0 L348.2,49.0 L348.6,49.4 L349.0,50.2 L349.3,50.9 L349.7,51.7 L350.0,54.3 L350.4,57.0 L350.8,59.7 L351.1,62.4 L351.5,65.0 L351.8,67.7 L352.2,70.4 L352.6,73.0 L352.9,75.7 L353.3,78.4 L353.6,80.6 L354.0,79.3 L354.3,77.2 L354.7,76.1 L355.1,74.9 L355.4,73.7 L355.8,72.5 L356.1,71.4 L356.5,70.2 L356.9,68.1 L357.2,64.5 L357.6,61.0 L357.9,57.5 L358.3,54.0 L358.6,51.9 L359.0,50.8 L359.4,49.7 L359.7,49.0 L360.1,49.0 L360.4,49.0 L360.8,49.0 L361.1,49.0 L361.5,49.0 L361.9,49.0 L362.2,49.0 L362.6,49.0 L362.9,49.0 L363.3,49.0 L363.7,49.0 L364.0,49.0 L364.4,49.0 L364.7,49.0 L365.1,49.0 L365.4,49.0 L365.8,49.0 L366.2,49.0 L366.5,49.0 L366.9,49.0 L367.2,49.0 L367.6,49.0 L368.0,49.0 L368.3,49.0 L368.7,49.0 L369.0,49.0 L369.4,49.0 L369.8,49.0 L370.1,49.0 L370.5,49.0 L370.8,49.0 L371.2,49.0 L371.5,49.0 L371.9,49.0 L372.3,49.0 L372.6,49.0 L373.0,49.0 L373.3,49.6 L373.7,50.3 L374.1,51.1 L374.4,52.2 L374.8,54.9 L375.1,57.5 L375.5,60.2 L375.8,62.9 L376.2,65.6 L376.6,68.2 L376.9,70.9 L377.3,73.6 L377.6,76.2 L378.0,78.8 L378.4,81.0 L378.7,78.8 L379.1,77.0 L379.4,75.8 L379.8,74.7 L380.1,73.5 L380.5,72.3 L380.9,71.1 L381.2,69.9 L381.6,67.4 L381.9,63.8 L382.3,60.3 L382.6,56.8 L383.0,53.3 L383.4,51.7 L383.7,50.6 L384.1,49.4 L384.4,49.0 L384.8,49.0 L385.2,49.0 L385.5,49.0 L385.9,49.0 L386.2,49.0 L386.6,49.0 L386.9,49.0 L387.3,49.0 L387.7,49.0 L388.0,49.0 L388.4,49.0 L388.7,49.0 L389.1,49.0 L389.5,49.0 L389.8,49.0 L390.2,49.0 L390.5,49.0 L390.9,49.0 L391.2,49.0 L391.6,49.0 L392.0,49.0 L392.3,49.0 L392.7,49.0 L393.0,49.0 L393.4,49.0 L393.8,49.0 L394.1,49.0 L394.5,49.0 L394.8,49.0 L395.2,49.0 L395.6,49.0 L395.9,49.0 L396.3,49.0 L396.6,49.0 L397.0,49.0 L397.3,49.0 L397.7,49.3 L398.1,50.0 L398.4,50.8 L398.8,51.5 L399.1,53.8 L399.5,56.5 L399.9,59.1 L400.2,61.8 L400.6,64.5 L400.9,67.2 L401.3,69.8 L401.6,72.5 L402.0,75.2 L402.4,77.8 L402.7,80.2 L403.1,79.7 L403.4,77.5 L403.8,76.3 L404.1,75.1 L404.5,73.9 L404.9,72.8 L405.2,71.6 L405.6,70.4 L405.9,68.8 L406.3,65.2 L406.7,61.7 L407.0,58.2 L407.4,54.7 L407.7,52.1 L408.1,51.0 L408.4,49.9 L408.8,49.0 L409.2,49.0 L409.5,49.0 L409.9,49.0 L410.2,49.0 L410.6,49.0 L411.0,49.0 L411.3,49.0 L411.7,49.0 L412.0,49.0 L412.4,49.0 L412.8,49.0 L413.1,49.0 L413.5,49.0 L413.8,49.0 L414.2,49.0 L414.5,49.0 L414.9,49.0 L415.3,49.0 L415.6,49.0 L416.0,49.0 L416.3,49.0 L416.7,49.0 L417.0,49.0 L417.4,49.0 L417.8,49.0 L418.1,49.0 L418.5,49.0 L418.8,49.0 L419.2,49.0 L419.6,49.0 L419.9,49.0 L420.3,49.0 L420.6,49.0 L421.0,49.0 L421.4,49.0 L421.7,49.0 L422.1,49.0 L422.4,49.0 L422.8,49.0 L423.1,49.0 L423.5,49.0 L423.9,49.4 L424.2,50.2 L424.6,50.9 L424.9,51.7 L425.3,54.3 L425.6,57.0 L426.0,59.7 L426.4,62.4 L426.7,65.0 L427.1,67.7 L427.4,70.4 L427.8,73.0 L428.2,75.7 L428.5,78.4 L428.9,80.6 L429.2,79.3 L429.6,77.2 L429.9,76.1 L430.3,74.9 L430.7,73.7 L431.0,72.5 L431.4,71.4 L431.7,70.2 L432.1,68.1 L432.5,64.5 L432.8,61.0 L433.2,57.5 L433.5,54.0 L433.9,51.9 L434.2,50.8 L434.6,49.7 L435.0,49.0 L435.3,49.0 L435.7,49.0 L436.0,49.0 L436.4,49.0 L436.8,49.0 L437.1,49.0 L437.5,49.0 L437.8,49.0 L438.2,49.0 L438.6,49.0 L438.9,49.0 L439.3,49.0 L439.6,49.0 L440.0,49.0 L440.3,49.0 L440.7,49.0 L441.1,49.0 L441.4,49.0 L441.8,49.0 L442.1,49.0 L442.5,49.0 L442.9,49.0 L443.2,49.2 L443.6,49.6 L443.9,50.2 L444.3,50.9 L444.6,51.6 L445.0,52.3 L445.4,53.0 L445.7,53.5 L446.1,53.8 L446.4,53.9 L446.8,53.8 L447.1,53.5 L447.5,53.0 L447.9,52.3 L448.2,51.6 L448.6,50.9 L448.9,50.2 L449.3,49.6 L449.7,49.2 L450.0,49.0 L450.4,49.0 L450.7,49.0 L451.1,49.0 L451.4,49.0 L451.8,49.0 L452.2,49.0 L452.5,49.0 L452.9,49.0 L453.2,49.0 L453.6,49.0 L454.0,49.0 L454.3,49.0 L454.7,49.0 L455.0,49.2 L455.4,49.5 L455.8,50.1 L456.1,50.7 L456.5,51.4 L456.8,52.2 L457.2,52.8 L457.5,53.4 L457.9,53.7 L458.3,53.9 L458.6,53.8 L459.0,53.5 L459.3,53.1 L459.7,52.5 L460.1,51.7 L460.4,51.0 L460.8,50.3 L461.1,49.7 L461.5,49.3 L461.8,49.0 L462.2,49.0 L462.6,49.0 L462.9,49.0 L463.3,49.0 L463.6,49.0 L464.0,49.0 L464.4,49.0 L464.7,49.0 L465.1,49.0 L465.4,49.0 L465.8,49.0 L466.1,49.0 L466.5,49.0 L466.9,49.0 L467.2,49.3 L467.6,49.7 L467.9,50.3 L468.3,51.0 L468.6,51.7 L469.0,52.5 L469.4,53.1 L469.7,53.5 L470.1,53.8 L470.4,53.9 L470.8,53.7 L471.2,53.4 L471.5,52.8 L471.9,52.2 L472.2,51.4 L472.6,50.7 L472.9,50.1 L473.3,49.5 L473.7,49.2 L474.0,49.0 L474.4,49.0 L474.7,49.0 L475.1,49.0 L475.5,49.0 L475.8,49.0 L476.2,49.0 L476.5,49.0 L476.9,49.0 L477.2,49.0 L477.6,49.0 L478.0,49.0 L478.3,49.0 L478.7,49.0 L479.0,49.1 L479.4,49.4 L479.8,49.9 L480.1,50.6 L480.5,51.3 L480.8,52.0 L481.2,52.7 L481.6,53.3 L481.9,53.7 L482.3,53.9 L482.6,53.9 L483.0,53.6 L483.3,53.2 L483.7,52.6 L484.1,51.9 L484.4,51.2 L484.8,50.4 L485.1,49.8 L485.5,49.4 L485.9,49.1 L486.2,49.0 L486.6,49.0 L486.9,49.0 L487.3,49.0 L487.6,49.0 L488.0,49.0 L488.4,49.0 L488.7,49.0 L489.1,49.0 L489.4,49.0 L489.8,49.0 L490.1,49.0 L490.5,49.0 L490.9,49.0 L491.2,49.2 L491.6,49.6 L491.9,50.2 L492.3,50.9 L492.7,51.6 L493.0,52.3 L493.4,53.0 L493.7,53.5 L494.1,53.8 L494.5,53.9 L494.8,53.8 L495.2,53.5 L495.5,53.0 L495.9,52.3 L496.2,51.6 L496.6,50.9 L497.0,50.2 L497.3,49.6 L497.7,49.2 L498.0,49.0 L498.4,49.0 L498.8,49.0 L499.1,49.0 L499.5,49.0 L499.8,49.0 L500.2,49.0 L500.5,49.0 L500.9,49.0 L501.3,49.0 L501.6,49.0 L502.0,49.0 L502.3,49.0 L502.7,49.0 L503.0,49.1 L503.4,49.4 L503.8,49.8 L504.1,50.4 L504.5,51.2 L504.8,51.9 L505.2,52.6 L505.6,53.2 L505.9,53.6 L506.3,53.9 L506.6,53.9 L507.0,53.7 L507.4,53.3 L507.7,52.7 L508.1,52.0 L508.4,51.3 L508.8,50.6 L509.1,49.9 L509.5,49.4" fill="none" stroke="#ED7D31" stroke-width="1.3" stroke-linejoin="round"/>
<path d="M294.5,137.7 L294.9,137.7 L295.2,137.7 L295.6,137.7 L295.9,137.7 L296.3,137.7 L296.6,137.7 L297.0,137.7 L297.4,137.7 L297.7,137.7 L298.1,137.7 L298.4,137.7 L298.8,137.7 L299.2,137.7 L299.5,137.7 L299.9,137.7 L300.2,137.7 L300.6,137.7 L300.9,137.7 L301.3,137.7 L301.7,137.7 L302.0,137.7 L302.4,137.7 L302.7,137.7 L303.1,137.7 L303.5,137.7 L303.8,137.7 L304.2,137.7 L304.5,137.7 L304.9,137.7 L305.2,137.5 L305.6,136.9 L306.0,136.3 L306.3,135.7 L306.7,134.1 L307.0,131.1 L307.4,128.1 L307.8,125.1 L308.1,122.0 L308.5,119.0 L308.8,117.7 L309.2,116.8 L309.6,117.4 L309.9,118.2 L310.3,122.0 L310.6,126.4 L311.0,130.9 L311.3,134.7 L311.7,135.9 L312.1,137.0 L312.4,137.7 L312.8,137.7 L313.1,137.7 L313.5,137.7 L313.9,137.7 L314.2,137.7 L314.6,137.7 L314.9,137.7 L315.3,137.7 L315.6,137.7 L316.0,137.7 L316.4,137.7 L316.7,137.7 L317.1,137.7 L317.4,137.7 L317.8,137.7 L318.1,137.7 L318.5,137.7 L318.9,137.7 L319.2,137.7 L319.6,137.7 L319.9,137.7 L320.3,137.7 L320.7,137.7 L321.0,137.7 L321.4,137.7 L321.7,137.7 L322.1,137.7 L322.4,137.7 L322.8,137.7 L323.2,137.7 L323.5,137.7 L323.9,137.7 L324.2,137.7 L324.6,137.7 L325.0,137.7 L325.3,137.7 L325.7,137.7 L326.0,137.7 L326.4,137.7 L326.8,137.7 L327.1,137.7 L327.5,137.7 L327.8,137.7 L328.2,137.7 L328.5,137.7 L328.9,137.7 L329.3,137.4 L329.6,136.8 L330.0,136.2 L330.3,135.6 L330.7,133.7 L331.1,131.0 L331.4,128.3 L331.8,125.6 L332.1,122.9 L332.5,120.2 L332.8,119.3 L333.2,118.4 L333.6,119.3 L333.9,120.2 L334.3,124.2 L334.6,128.1 L335.0,132.1 L335.4,134.9 L335.7,136.1 L336.1,137.3 L336.4,137.7 L336.8,137.7 L337.1,137.7 L337.5,137.7 L337.9,137.7 L338.2,137.7 L338.6,137.7 L338.9,137.7 L339.3,137.7 L339.6,137.7 L340.0,137.7 L340.4,137.7 L340.7,137.7 L341.1,137.7 L341.4,137.7 L341.8,137.7 L342.2,137.7 L342.5,137.7 L342.9,137.7 L343.2,137.7 L343.6,137.7 L343.9,137.7 L344.3,137.7 L344.7,137.7 L345.0,137.7 L345.4,137.7 L345.7,137.7 L346.1,137.7 L346.5,137.7 L346.8,137.7 L347.2,137.7 L347.5,137.7 L347.9,137.7 L348.2,137.7 L348.6,137.7 L349.0,137.7 L349.3,137.7 L349.7,137.7 L350.0,137.7 L350.4,137.7 L350.8,137.7 L351.1,137.7 L351.5,137.7 L351.8,137.7 L352.2,137.7 L352.6,137.7 L352.9,137.1 L353.3,136.5 L353.6,135.9 L354.0,135.3 L354.3,132.5 L354.7,129.6 L355.1,126.7 L355.4,123.9 L355.8,121.0 L356.1,119.0 L356.5,118.1 L356.9,117.9 L357.2,118.8 L357.6,121.0 L357.9,125.2 L358.3,129.4 L358.6,133.6 L359.0,135.4 L359.4,136.6 L359.7,137.7 L360.1,137.7 L360.4,137.7 L360.8,137.7 L361.1,137.7 L361.5,137.7 L361.9,137.7 L362.2,137.7 L362.6,137.7 L362.9,137.7 L363.3,137.7 L363.7,137.7 L364.0,137.7 L364.4,137.7 L364.7,137.7 L365.1,137.7 L365.4,137.7 L365.8,137.7 L366.2,137.7 L366.5,137.7 L366.9,137.7 L367.2,137.7 L367.6,137.7 L368.0,137.7 L368.3,137.7 L368.7,137.7 L369.0,137.7 L369.4,137.7 L369.8,137.7 L370.1,137.7 L370.5,137.7 L370.8,137.7 L371.2,137.7 L371.5,137.7 L371.9,137.7 L372.3,137.7 L372.6,137.7 L373.0,137.7 L373.3,137.7 L373.7,137.7 L374.1,137.7 L374.4,137.7 L374.8,137.7 L375.1,137.7 L375.5,137.7 L375.8,137.7 L376.2,137.7 L376.6,137.7 L376.9,137.7 L377.3,137.6 L377.6,137.0 L378.0,136.4 L378.4,135.8 L378.7,134.8 L379.1,132.1 L379.4,129.4 L379.8,126.7 L380.1,124.0 L380.5,121.3 L380.9,119.7 L381.2,118.8 L381.6,119.0 L381.9,119.8 L382.3,122.6 L382.6,126.5 L383.0,130.5 L383.4,134.4 L383.7,135.6 L384.1,136.8 L384.4,137.7 L384.8,137.7 L385.2,137.7 L385.5,137.7 L385.9,137.7 L386.2,137.7 L386.6,137.7 L386.9,137.7 L387.3,137.7 L387.7,137.7 L388.0,137.7 L388.4,137.7 L388.7,137.7 L389.1,137.7 L389.5,137.7 L389.8,137.7 L390.2,137.7 L390.5,137.7 L390.9,137.7 L391.2,137.7 L391.6,137.7 L392.0,137.7 L392.3,137.7 L392.7,137.7 L393.0,137.7 L393.4,137.7 L393.8,137.7 L394.1,137.7 L394.5,137.7 L394.8,137.7 L395.2,137.7 L395.6,137.7 L395.9,137.7 L396.3,137.7 L396.6,137.7 L397.0,137.7 L397.3,137.7 L397.7,137.7 L398.1,137.7 L398.4,137.7 L398.8,137.7 L399.1,137.7 L399.5,137.7 L399.9,137.7 L400.2,137.7 L400.6,137.7 L400.9,137.7 L401.3,137.7 L401.6,137.7 L402.0,137.3 L402.4,136.7 L402.7,136.1 L403.1,135.5 L403.4,133.3 L403.8,130.8 L404.1,128.2 L404.5,125.7 L404.9,123.1 L405.2,120.9 L405.6,120.0 L405.9,119.5 L406.3,120.4 L406.7,121.8 L407.0,125.5 L407.4,129.2 L407.7,133.0 L408.1,135.1 L408.4,136.3 L408.8,137.5 L409.2,137.7 L409.5,137.7 L409.9,137.7 L410.2,137.7 L410.6,137.7 L411.0,137.7 L411.3,137.7 L411.7,137.7 L412.0,137.7 L412.4,137.7 L412.8,137.7 L413.1,137.7 L413.5,137.7 L413.8,137.7 L414.2,137.7 L414.5,137.7 L414.9,137.7 L415.3,137.7 L415.6,137.7 L416.0,137.7 L416.3,137.7 L416.7,137.7 L417.0,137.7 L417.4,137.7 L417.8,137.7 L418.1,137.7 L418.5,137.7 L418.8,137.7 L419.2,137.7 L419.6,137.7 L419.9,137.7 L420.3,137.7 L420.6,137.7 L421.0,137.7 L421.4,137.7 L421.7,137.7 L422.1,137.7 L422.4,137.7 L422.8,137.7 L423.1,137.7 L423.5,137.7 L423.9,137.7 L424.2,137.7 L424.6,137.7 L424.9,137.7 L425.3,137.7 L425.6,137.7 L426.0,137.7 L426.4,137.7 L426.7,137.7 L427.1,137.7 L427.4,137.7 L427.8,137.7 L428.2,137.1 L428.5,136.5 L428.9,135.9 L429.2,135.3 L429.6,132.6 L429.9,129.9 L430.3,127.2 L430.7,124.5 L431.0,121.8 L431.4,119.8 L431.7,119.0 L432.1,118.8 L432.5,119.7 L432.8,121.8 L433.2,125.7 L433.5,129.7 L433.9,133.6 L434.2,135.4 L434.6,136.6 L435.0,137.7 L435.3,137.7 L435.7,137.7 L436.0,137.7 L436.4,137.7 L436.8,137.7 L437.1,137.7 L437.5,137.7 L437.8,137.7 L438.2,137.7 L438.6,137.7 L438.9,137.7 L439.3,137.7 L439.6,137.7 L440.0,137.7 L440.3,137.7 L440.7,137.7 L441.1,137.7 L441.4,137.7 L441.8,137.7 L442.1,137.7 L442.5,137.7 L442.9,137.7 L443.2,137.7 L443.6,137.4 L443.9,137.0 L444.3,136.4 L444.6,135.7 L445.0,134.9 L445.4,134.3 L445.7,133.7 L446.1,133.4 L446.4,133.3 L446.8,133.4 L447.1,133.7 L447.5,134.3 L447.9,134.9 L448.2,135.7 L448.6,136.4 L448.9,137.0 L449.3,137.4 L449.7,137.7 L450.0,137.7 L450.4,137.7 L450.7,137.7 L451.1,137.7 L451.4,137.7 L451.8,137.7 L452.2,137.7 L452.5,137.7 L452.9,137.7 L453.2,137.7 L453.6,137.7 L454.0,137.7 L454.3,137.7 L454.7,137.7 L455.0,137.7 L455.4,137.5 L455.8,137.1 L456.1,136.5 L456.5,135.8 L456.8,135.1 L457.2,134.4 L457.5,133.8 L457.9,133.5 L458.3,133.3 L458.6,133.4 L459.0,133.7 L459.3,134.2 L459.7,134.8 L460.1,135.5 L460.4,136.2 L460.8,136.9 L461.1,137.4 L461.5,137.7 L461.8,137.7 L462.2,137.7 L462.6,137.7 L462.9,137.7 L463.3,137.7 L463.6,137.7 L464.0,137.7 L464.4,137.7 L464.7,137.7 L465.1,137.7 L465.4,137.7 L465.8,137.7 L466.1,137.7 L466.5,137.7 L466.9,137.7 L467.2,137.7 L467.6,137.4 L467.9,136.9 L468.3,136.2 L468.6,135.5 L469.0,134.8 L469.4,134.2 L469.7,133.7 L470.1,133.4 L470.4,133.3 L470.8,133.5 L471.2,133.8 L471.5,134.4 L471.9,135.1 L472.2,135.8 L472.6,136.5 L472.9,137.1 L473.3,137.5 L473.7,137.7 L474.0,137.7 L474.4,137.7 L474.7,137.7 L475.1,137.7 L475.5,137.7 L475.8,137.7 L476.2,137.7 L476.5,137.7 L476.9,137.7 L477.2,137.7 L477.6,137.7 L478.0,137.7 L478.3,137.7 L478.7,137.7 L479.0,137.7 L479.4,137.6 L479.8,137.2 L480.1,136.6 L480.5,135.9 L480.8,135.2 L481.2,134.5 L481.6,133.9 L481.9,133.5 L482.3,133.3 L482.6,133.3 L483.0,133.6 L483.3,134.0 L483.7,134.7 L484.1,135.4 L484.4,136.1 L484.8,136.7 L485.1,137.3 L485.5,137.6 L485.9,137.7 L486.2,137.7 L486.6,137.7 L486.9,137.7 L487.3,137.7 L487.6,137.7 L488.0,137.7 L488.4,137.7 L488.7,137.7 L489.1,137.7 L489.4,137.7 L489.8,137.7 L490.1,137.7 L490.5,137.7 L490.9,137.7 L491.2,137.7 L491.6,137.4 L491.9,137.0 L492.3,136.4 L492.7,135.7 L493.0,134.9 L493.4,134.3 L493.7,133.7 L494.1,133.4 L494.5,133.3 L494.8,133.4 L495.2,133.7 L495.5,134.3 L495.9,134.9 L496.2,135.7 L496.6,136.4 L497.0,137.0 L497.3,137.4 L497.7,137.7 L498.0,137.7 L498.4,137.7 L498.8,137.7 L499.1,137.7 L499.5,137.7 L499.8,137.7 L500.2,137.7 L500.5,137.7 L500.9,137.7 L501.3,137.7 L501.6,137.7 L502.0,137.7 L502.3,137.7 L502.7,137.7 L503.0,137.7 L503.4,137.6 L503.8,137.3 L504.1,136.7 L504.5,136.1 L504.8,135.4 L505.2,134.7 L505.6,134.0 L505.9,133.6 L506.3,133.3 L506.6,133.3 L507.0,133.5 L507.4,133.9 L507.7,134.5 L508.1,135.2 L508.4,135.9 L508.8,136.6 L509.1,137.2 L509.5,137.6" fill="none" stroke="#7030A0" stroke-width="1.3" stroke-linejoin="round"/>
<path d="M294.5,137.7 L294.9,137.7 L295.2,137.7 L295.6,137.7 L295.9,137.7 L296.3,137.7 L296.6,137.7 L297.0,137.7 L297.4,137.7 L297.7,137.7 L298.1,137.7 L298.4,137.7 L298.8,137.7 L299.2,137.7 L299.5,137.7 L299.9,137.7 L300.2,137.7 L300.6,137.7 L300.9,137.7 L301.3,137.7 L301.7,137.7 L302.0,137.6 L302.4,136.8 L302.7,136.1 L303.1,135.3 L303.5,132.0 L303.8,128.7 L304.2,125.3 L304.5,122.0 L304.9,118.6 L305.2,115.3 L305.6,112.0 L306.0,110.0 L306.3,109.1 L306.7,111.3 L307.0,113.8 L307.4,117.4 L307.8,121.1 L308.1,124.7 L308.5,128.4 L308.8,130.9 L309.2,133.1 L309.6,135.3 L309.9,136.5 L310.3,137.0 L310.6,137.4 L311.0,137.7 L311.3,137.7 L311.7,137.7 L312.1,137.7 L312.4,137.7 L312.8,137.7 L313.1,137.7 L313.5,137.7 L313.9,137.7 L314.2,137.7 L314.6,137.7 L314.9,137.7 L315.3,137.7 L315.6,137.7 L316.0,137.7 L316.4,137.7 L316.7,137.7 L317.1,137.7 L317.4,137.7 L317.8,137.7 L318.1,137.7 L318.5,137.7 L318.9,137.7 L319.2,137.7 L319.6,137.7 L319.9,137.7 L320.3,137.7 L320.7,137.7 L321.0,137.7 L321.4,137.7 L321.7,137.7 L322.1,137.7 L322.4,137.7 L322.8,137.7 L323.2,137.7 L323.5,137.7 L323.9,137.7 L324.2,137.7 L324.6,137.7 L325.0,137.7 L325.3,137.7 L325.7,137.7 L326.0,137.4 L326.4,136.7 L326.8,135.9 L327.1,134.6 L327.5,131.0 L327.8,127.4 L328.2,123.9 L328.5,120.3 L328.9,116.7 L329.3,113.1 L329.6,109.5 L330.0,107.9 L330.3,107.7 L330.7,110.0 L331.1,112.9 L331.4,117.0 L331.8,121.0 L332.1,125.1 L332.5,129.1 L332.8,131.3 L333.2,133.6 L333.6,135.8 L333.9,136.6 L334.3,137.1 L334.6,137.5 L335.0,137.7 L335.4,137.7 L335.7,137.7 L336.1,137.7 L336.4,137.7 L336.8,137.7 L337.1,137.7 L337.5,137.7 L337.9,137.7 L338.2,137.7 L338.6,137.7 L338.9,137.7 L339.3,137.7 L339.6,137.7 L340.0,137.7 L340.4,137.7 L340.7,137.7 L341.1,137.7 L341.4,137.7 L341.8,137.7 L342.2,137.7 L342.5,137.7 L342.9,137.7 L343.2,137.7 L343.6,137.7 L343.9,137.7 L344.3,137.7 L344.7,137.7 L345.0,137.7 L345.4,137.7 L345.7,137.7 L346.1,137.7 L346.5,137.7 L346.8,137.7 L347.2,137.7 L347.5,137.7 L347.9,137.7 L348.2,137.7 L348.6,137.7 L349.0,137.7 L349.3,137.7 L349.7,137.1 L350.0,136.4 L350.4,135.6 L350.8,133.1 L351.1,129.4 L351.5,125.7 L351.8,122.0 L352.2,118.3 L352.6,114.6 L352.9,110.9 L353.3,108.0 L353.6,106.3 L354.0,107.7 L354.3,110.0 L354.7,113.8 L355.1,118.1 L355.4,122.3 L355.8,126.6 L356.1,130.0 L356.5,132.2 L356.9,134.4 L357.2,136.3 L357.6,136.8 L357.9,137.3 L358.3,137.7 L358.6,137.7 L359.0,137.7 L359.4,137.7 L359.7,137.7 L360.1,137.7 L360.4,137.7 L360.8,137.7 L361.1,137.7 L361.5,137.7 L361.9,137.7 L362.2,137.7 L362.6,137.7 L362.9,137.7 L363.3,137.7 L363.7,137.7 L364.0,137.7 L364.4,137.7 L364.7,137.7 L365.1,137.7 L365.4,137.7 L365.8,137.7 L366.2,137.7 L366.5,137.7 L366.9,137.7 L367.2,137.7 L367.6,137.7 L368.0,137.7 L368.3,137.7 L368.7,137.7 L369.0,137.7 L369.4,137.7 L369.8,137.7 L370.1,137.7 L370.5,137.7 L370.8,137.7 L371.2,137.7 L371.5,137.7 L371.9,137.7 L372.3,137.7 L372.6,137.7 L373.0,137.7 L373.3,137.7 L373.7,137.7 L374.1,137.7 L374.4,137.0 L374.8,136.2 L375.1,135.5 L375.5,132.5 L375.8,128.9 L376.2,125.3 L376.6,121.7 L376.9,118.1 L377.3,114.5 L377.6,111.0 L378.0,108.5 L378.4,106.8 L378.7,109.1 L379.1,111.3 L379.4,115.3 L379.8,119.4 L380.1,123.4 L380.5,127.5 L380.9,130.4 L381.2,132.7 L381.6,134.9 L381.9,136.4 L382.3,136.9 L382.6,137.4 L383.0,137.7 L383.4,137.7 L383.7,137.7 L384.1,137.7 L384.4,137.7 L384.8,137.7 L385.2,137.7 L385.5,137.7 L385.9,137.7 L386.2,137.7 L386.6,137.7 L386.9,137.7 L387.3,137.7 L387.7,137.7 L388.0,137.7 L388.4,137.7 L388.7,137.7 L389.1,137.7 L389.5,137.7 L389.8,137.7 L390.2,137.7 L390.5,137.7 L390.9,137.7 L391.2,137.7 L391.6,137.7 L392.0,137.7 L392.3,137.7 L392.7,137.7 L393.0,137.7 L393.4,137.7 L393.8,137.7 L394.1,137.7 L394.5,137.7 L394.8,137.7 L395.2,137.7 L395.6,137.7 L395.9,137.7 L396.3,137.7 L396.6,137.7 L397.0,137.7 L397.3,137.7 L397.7,137.7 L398.1,137.7 L398.4,137.7 L398.8,137.3 L399.1,136.5 L399.5,135.8 L399.9,133.9 L400.2,130.3 L400.6,126.7 L400.9,123.1 L401.3,119.6 L401.6,116.0 L402.0,112.4 L402.4,109.2 L402.7,107.5 L403.1,108.2 L403.4,110.4 L403.8,113.7 L404.1,117.8 L404.5,121.8 L404.9,125.9 L405.2,129.5 L405.6,131.8 L405.9,134.0 L406.3,136.2 L406.7,136.7 L407.0,137.2 L407.4,137.6 L407.7,137.7 L408.1,137.7 L408.4,137.7 L408.8,137.7 L409.2,137.7 L409.5,137.7 L409.9,137.7 L410.2,137.7 L410.6,137.7 L411.0,137.7 L411.3,137.7 L411.7,137.7 L412.0,137.7 L412.4,137.7 L412.8,137.7 L413.1,137.7 L413.5,137.7 L413.8,137.7 L414.2,137.7 L414.5,137.7 L414.9,137.7 L415.3,137.7 L415.6,137.7 L416.0,137.7 L416.3,137.7 L416.7,137.7 L417.0,137.7 L417.4,137.7 L417.8,137.7 L418.1,137.7 L418.5,137.7 L418.8,137.7 L419.2,137.7 L419.6,137.7 L419.9,137.7 L420.3,137.7 L420.6,137.7 L421.0,137.7 L421.4,137.7 L421.7,137.7 L422.1,137.7 L422.4,137.7 L422.8,137.7 L423.1,137.7 L423.5,137.7 L423.9,137.7 L424.2,137.7 L424.6,137.7 L424.9,137.1 L425.3,136.4 L425.6,135.6 L426.0,133.3 L426.4,129.8 L426.7,126.3 L427.1,122.9 L427.4,119.4 L427.8,115.9 L428.2,112.5 L428.5,109.7 L428.9,108.1 L429.2,109.5 L429.6,111.7 L429.9,115.3 L430.3,119.1 L430.7,123.0 L431.0,126.8 L431.4,130.0 L431.7,132.2 L432.1,134.4 L432.5,136.3 L432.8,136.8 L433.2,137.3 L433.5,137.7 L433.9,137.7 L434.2,137.7 L434.6,137.7 L435.0,137.7 L435.3,137.7 L435.7,137.7 L436.0,137.7 L436.4,137.7 L436.8,137.7 L437.1,137.7 L437.5,137.7 L437.8,137.7 L438.2,137.7 L438.6,137.7 L438.9,137.7 L439.3,137.7 L439.6,137.7 L440.0,137.7 L440.3,137.7 L440.7,137.7 L441.1,137.7 L441.4,137.7 L441.8,137.7 L442.1,137.7 L442.5,137.7 L442.9,137.7 L443.2,137.7 L443.6,137.7 L443.9,137.7 L444.3,137.7 L444.6,137.7 L445.0,137.7 L445.4,137.7 L445.7,137.7 L446.1,137.7 L446.4,137.7 L446.8,137.7 L447.1,137.7 L447.5,137.7 L447.9,137.7 L448.2,137.7 L448.6,137.7 L448.9,137.7 L449.3,137.7 L449.7,137.7 L450.0,137.7 L450.4,137.7 L450.7,137.7 L451.1,137.7 L451.4,137.7 L451.8,137.7 L452.2,137.7 L452.5,137.7 L452.9,137.7 L453.2,137.7 L453.6,137.7 L454.0,137.7 L454.3,137.7 L454.7,137.7 L455.0,137.7 L455.4,137.7 L455.8,137.7 L456.1,137.7 L456.5,137.7 L456.8,137.7 L457.2,137.7 L457.5,137.7 L457.9,137.7 L458.3,137.7 L458.6,137.7 L459.0,137.7 L459.3,137.7 L459.7,137.7 L460.1,137.7 L460.4,137.7 L460.8,137.7 L461.1,137.7 L461.5,137.7 L461.8,137.7 L462.2,137.7 L462.6,137.7 L462.9,137.7 L463.3,137.7 L463.6,137.7 L464.0,137.7 L464.4,137.7 L464.7,137.7 L465.1,137.7 L465.4,137.7 L465.8,137.7 L466.1,137.7 L466.5,137.7 L466.9,137.7 L467.2,137.7 L467.6,137.7 L467.9,137.7 L468.3,137.7 L468.6,137.7 L469.0,137.7 L469.4,137.7 L469.7,137.7 L470.1,137.7 L470.4,137.7 L470.8,137.7 L471.2,137.7 L471.5,137.7 L471.9,137.7 L472.2,137.7 L472.6,137.7 L472.9,137.7 L473.3,137.7 L473.7,137.7 L474.0,137.7 L474.4,137.7 L474.7,137.7 L475.1,137.7 L475.5,137.7 L475.8,137.7 L476.2,137.7 L476.5,137.7 L476.9,137.7 L477.2,137.7 L477.6,137.7 L478.0,137.7 L478.3,137.7 L478.7,137.7 L479.0,137.7 L479.4,137.7 L479.8,137.7 L480.1,137.7 L480.5,137.7 L480.8,137.7 L481.2,137.7 L481.6,137.7 L481.9,137.7 L482.3,137.7 L482.6,137.7 L483.0,137.7 L483.3,137.7 L483.7,137.7 L484.1,137.7 L484.4,137.7 L484.8,137.7 L485.1,137.7 L485.5,137.7 L485.9,137.7 L486.2,137.7 L486.6,137.7 L486.9,137.7 L487.3,137.7 L487.6,137.7 L488.0,137.7 L488.4,137.7 L488.7,137.7 L489.1,137.7 L489.4,137.7 L489.8,137.7 L490.1,137.7 L490.5,137.7 L490.9,137.7 L491.2,137.7 L491.6,137.7 L491.9,137.7 L492.3,137.7 L492.7,137.7 L493.0,137.7 L493.4,137.7 L493.7,137.7 L494.1,137.7 L494.5,137.7 L494.8,137.7 L495.2,137.7 L495.5,137.7 L495.9,137.7 L496.2,137.7 L496.6,137.7 L497.0,137.7 L497.3,137.7 L497.7,137.7 L498.0,137.7 L498.4,137.7 L498.8,137.7 L499.1,137.7 L499.5,137.7 L499.8,137.7 L500.2,137.7 L500.5,137.7 L500.9,137.7 L501.3,137.7 L501.6,137.7 L502.0,137.7 L502.3,137.7 L502.7,137.7 L503.0,137.7 L503.4,137.7 L503.8,137.7 L504.1,137.7 L504.5,137.7 L504.8,137.7 L505.2,137.7 L505.6,137.7 L505.9,137.7 L506.3,137.7 L506.6,137.7 L507.0,137.7 L507.4,137.7 L507.7,137.7 L508.1,137.7 L508.4,137.7 L508.8,137.7 L509.1,137.7 L509.5,137.7" fill="none" stroke="#1FB1E6" stroke-width="1.3" stroke-linejoin="round"/>
<rect x="462.0" y="61.5" width="36.5" height="61.9" fill="#d9d9d9"/>
<line x1="469.4" x2="479.0" y1="72.3" y2="72.3" stroke="#ED7D31" stroke-width="1.1"/>
<text x="480.0" y="75.9" font-size="10.2" fill="#4f4f4f">Ga</text>
<line x1="469.4" x2="479.0" y1="93.3" y2="93.3" stroke="#7030A0" stroke-width="1.1"/>
<text x="480.0" y="96.9" font-size="10.2" fill="#4f4f4f">In</text>
<line x1="469.4" x2="479.0" y1="113.5" y2="113.5" stroke="#1FB1E6" stroke-width="1.1"/>
<text x="480.0" y="117.1" font-size="10.2" fill="#4f4f4f">Al</text>
<text x="271.5" y="177.3" font-size="12" fill="#000">(b)</text>
<line x1="309.0" x2="500.9" y1="336.7" y2="336.7" stroke="#e8e8e8" stroke-width="0.7"/>
<text x="298.7" y="340.5" text-anchor="end" font-size="10.8" fill="#4f4f4f">0</text>
<line x1="309.0" x2="500.9" y1="316.1" y2="316.1" stroke="#e8e8e8" stroke-width="0.7"/>
<text x="298.7" y="319.9" text-anchor="end" font-size="10.8" fill="#4f4f4f">20</text>
<line x1="309.0" x2="500.9" y1="295.5" y2="295.5" stroke="#e8e8e8" stroke-width="0.7"/>
<text x="298.7" y="299.3" text-anchor="end" font-size="10.8" fill="#4f4f4f">40</text>
<line x1="309.0" x2="500.9" y1="275.0" y2="275.0" stroke="#e8e8e8" stroke-width="0.7"/>
<text x="298.7" y="278.8" text-anchor="end" font-size="10.8" fill="#4f4f4f">60</text>
<line x1="309.0" x2="500.9" y1="254.4" y2="254.4" stroke="#e8e8e8" stroke-width="0.7"/>
<text x="298.7" y="258.2" text-anchor="end" font-size="10.8" fill="#4f4f4f">80</text>
<line x1="309.0" x2="500.9" y1="233.8" y2="233.8" stroke="#e8e8e8" stroke-width="0.7"/>
<text x="298.7" y="237.6" text-anchor="end" font-size="10.8" fill="#4f4f4f">100</text>
<line x1="309.0" x2="309.0" y1="336.7" y2="233.8" stroke="#e8e8e8" stroke-width="0.7"/>
<text x="309.0" y="356.1" text-anchor="middle" font-size="10.8" fill="#4f4f4f">0</text>
<line x1="362.3" x2="362.3" y1="336.7" y2="233.8" stroke="#e8e8e8" stroke-width="0.7"/>
<text x="362.3" y="356.1" text-anchor="middle" font-size="10.8" fill="#4f4f4f">50</text>
<line x1="415.6" x2="415.6" y1="336.7" y2="233.8" stroke="#e8e8e8" stroke-width="0.7"/>
<text x="415.6" y="356.1" text-anchor="middle" font-size="10.8" fill="#4f4f4f">100</text>
<line x1="468.9" x2="468.9" y1="336.7" y2="233.8" stroke="#e8e8e8" stroke-width="0.7"/>
<text x="468.9" y="356.1" text-anchor="middle" font-size="10.8" fill="#4f4f4f">150</text>
<text transform="translate(277.1,284.0) rotate(-90)" text-anchor="middle" font-size="10.8" fill="#4f4f4f">Atom fraction (%)</text>
<text x="404.9" y="370.6" text-anchor="middle" font-size="10.8" fill="#4f4f4f">Position (nm)</text>
<path d="M309.0,237.8 L309.3,238.1 L309.6,237.1 L310.0,238.3 L310.3,237.3 L310.6,237.7 L310.9,238.3 L311.2,237.4 L311.6,238.4 L311.9,237.5 L312.2,238.3 L312.5,238.2 L312.8,237.6 L313.2,236.7 L313.5,238.2 L313.8,238.0 L314.1,237.1 L314.4,236.5 L314.8,237.2 L315.1,237.6 L315.4,236.4 L315.7,238.3 L316.0,236.7 L316.4,237.8 L316.7,238.1 L317.0,238.2 L317.3,237.8 L317.6,236.8 L318.0,238.1 L318.3,237.2 L318.6,237.1 L318.9,239.4 L319.2,240.8 L319.6,243.5 L319.9,245.3 L320.2,246.8 L320.5,247.6 L320.8,250.0 L321.2,252.1 L321.5,253.4 L321.8,255.5 L322.1,257.7 L322.4,258.1 L322.8,258.9 L323.1,260.5 L323.4,260.4 L323.7,261.1 L324.0,261.0 L324.4,261.8 L324.7,263.3 L325.0,262.4 L325.3,264.7 L325.6,264.6 L326.0,264.5 L326.3,266.2 L326.6,264.9 L326.9,264.5 L327.2,261.9 L327.6,260.4 L327.9,258.5 L328.2,255.0 L328.5,253.3 L328.8,249.6 L329.1,246.9 L329.5,245.3 L329.8,244.5 L330.1,242.6 L330.4,241.4 L330.7,241.3 L331.1,239.9 L331.4,240.1 L331.7,237.7 L332.0,237.1 L332.3,236.4 L332.7,236.7 L333.0,237.8 L333.3,237.6 L333.6,237.1 L333.9,238.4 L334.3,237.5 L334.6,238.1 L334.9,238.2 L335.2,238.3 L335.5,236.8 L335.9,238.2 L336.2,237.9 L336.5,237.6 L336.8,236.6 L337.1,238.3 L337.5,237.5 L337.8,237.3 L338.1,236.6 L338.4,236.7 L338.7,236.7 L339.1,237.9 L339.4,237.6 L339.7,238.1 L340.0,238.1 L340.3,239.0 L340.7,241.7 L341.0,246.5 L341.3,251.2 L341.6,256.0 L341.9,260.2 L342.3,264.8 L342.6,270.3 L342.9,272.8 L343.2,273.8 L343.5,274.8 L343.9,273.3 L344.2,271.3 L344.5,270.7 L344.8,269.9 L345.1,268.5 L345.5,267.3 L345.8,267.4 L346.1,265.1 L346.4,265.9 L346.7,266.4 L347.1,267.1 L347.4,265.1 L347.7,262.2 L348.0,260.0 L348.3,256.0 L348.7,254.3 L349.0,251.4 L349.3,248.3 L349.6,245.5 L349.9,242.3 L350.3,241.5 L350.6,240.9 L350.9,239.9 L351.2,239.3 L351.5,238.1 L351.9,238.4 L352.2,236.6 L352.5,237.2 L352.8,238.1 L353.1,237.9 L353.5,237.7 L353.8,237.7 L354.1,238.2 L354.4,236.7 L354.7,236.4 L355.1,237.5 L355.4,237.4 L355.7,238.3 L356.0,238.2 L356.3,237.7 L356.7,237.9 L357.0,236.7 L357.3,238.1 L357.6,238.4 L357.9,236.5 L358.3,237.3 L358.6,238.1 L358.9,237.3 L359.2,238.4 L359.5,237.3 L359.9,237.5 L360.2,238.8 L360.5,240.2 L360.8,244.5 L361.1,248.7 L361.5,253.6 L361.8,256.8 L362.1,261.7 L362.4,265.7 L362.7,269.4 L363.1,271.5 L363.4,272.3 L363.7,270.7 L364.0,269.9 L364.3,268.8 L364.7,267.6 L365.0,266.6 L365.3,266.5 L365.6,264.8 L365.9,263.9 L366.3,265.2 L366.6,265.8 L366.9,265.9 L367.2,264.3 L367.5,260.5 L367.8,257.1 L368.2,255.3 L368.5,251.4 L368.8,248.9 L369.1,246.5 L369.4,245.3 L369.8,243.2 L370.1,241.3 L370.4,240.7 L370.7,240.0 L371.0,238.5 L371.4,237.3 L371.7,236.7 L372.0,237.4 L372.3,237.1 L372.6,236.8 L373.0,238.3 L373.3,237.1 L373.6,236.6 L373.9,236.8 L374.2,236.9 L374.6,237.4 L374.9,238.1 L375.2,236.8 L375.5,237.7 L375.8,236.8 L376.2,236.4 L376.5,237.6 L376.8,237.6 L377.1,236.5 L377.4,236.9 L377.8,238.1 L378.1,238.2 L378.4,238.1 L378.7,236.6 L379.0,236.8 L379.4,238.1 L379.7,237.1 L380.0,237.9 L380.3,239.6 L380.6,241.3 L381.0,245.4 L381.3,250.7 L381.6,255.4 L381.9,257.9 L382.2,263.0 L382.6,267.7 L382.9,268.8 L383.2,271.8 L383.5,271.8 L383.8,270.7 L384.2,270.8 L384.5,269.6 L384.8,268.3 L385.1,267.3 L385.4,265.4 L385.8,264.9 L386.1,264.0 L386.4,265.2 L386.7,264.2 L387.0,266.0 L387.4,262.9 L387.7,259.8 L388.0,256.3 L388.3,254.4 L388.6,250.7 L389.0,249.1 L389.3,246.6 L389.6,244.2 L389.9,242.8 L390.2,240.7 L390.6,240.5 L390.9,240.2 L391.2,237.9 L391.5,238.5 L391.8,237.5 L392.2,236.9 L392.5,237.3 L392.8,237.8 L393.1,237.4 L393.4,237.3 L393.8,236.8 L394.1,238.2 L394.4,237.3 L394.7,237.9 L395.0,237.9 L395.4,236.8 L395.7,237.4 L396.0,237.3 L396.3,236.9 L396.6,236.6 L397.0,237.5 L397.3,237.2 L397.6,237.4 L397.9,237.4 L398.2,237.0 L398.6,237.5 L398.9,237.3 L399.2,238.2 L399.5,238.3 L399.8,239.9 L400.2,241.7 L400.5,245.8 L400.8,251.5 L401.1,255.2 L401.4,258.7 L401.8,263.2 L402.1,268.1 L402.4,270.1 L402.7,271.3 L403.0,272.0 L403.4,270.5 L403.7,269.7 L404.0,267.3 L404.3,265.9 L404.6,264.5 L404.9,264.9 L405.3,262.6 L405.6,262.7 L405.9,264.4 L406.2,263.5 L406.5,262.8 L406.9,261.4 L407.2,257.1 L407.5,255.3 L407.8,252.3 L408.1,248.8 L408.5,246.9 L408.8,246.1 L409.1,243.3 L409.4,241.0 L409.7,240.7 L410.1,240.3 L410.4,239.4 L410.7,237.8 L411.0,238.6 L411.3,237.3 L411.7,237.5 L412.0,238.4 L412.3,237.7 L412.6,237.1 L412.9,237.4 L413.3,238.3 L413.6,236.4 L413.9,236.8 L414.2,236.4 L414.5,238.2 L414.9,237.9 L415.2,238.3 L415.5,236.8 L415.8,237.9 L416.1,238.2 L416.5,237.6 L416.8,236.6 L417.1,236.7 L417.4,237.9 L417.7,238.1 L418.1,236.5 L418.4,237.3 L418.7,237.0 L419.0,239.0 L419.3,240.1 L419.7,239.9 L420.0,242.6 L420.3,247.8 L420.6,250.5 L420.9,255.6 L421.3,259.7 L421.6,265.6 L421.9,267.7 L422.2,271.2 L422.5,271.5 L422.9,272.2 L423.2,271.3 L423.5,269.7 L423.8,267.8 L424.1,268.0 L424.5,267.1 L424.8,265.1 L425.1,264.6 L425.4,264.9 L425.7,265.4 L426.1,266.2 L426.4,265.4 L426.7,262.3 L427.0,259.4 L427.3,255.6 L427.7,253.7 L428.0,250.7 L428.3,248.9 L428.6,246.2 L428.9,244.4 L429.3,241.5 L429.6,241.3 L429.9,239.2 L430.2,238.9 L430.5,238.9 L430.9,237.7 L431.2,236.5 L431.5,238.2 L431.8,236.7 L432.1,237.5 L432.5,237.4 L432.8,236.7 L433.1,237.6 L433.4,237.4 L433.7,237.0 L434.1,236.4 L434.4,237.7 L434.7,236.7 L435.0,237.0 L435.3,237.1 L435.7,237.6 L436.0,237.7 L436.3,238.3 L436.6,238.2 L436.9,238.3 L437.3,236.9 L437.6,237.9 L437.9,238.1 L438.2,238.3 L438.5,236.7 L438.9,237.4 L439.2,238.9 L439.5,240.7 L439.8,243.0 L440.1,247.4 L440.5,251.5 L440.8,256.6 L441.1,260.4 L441.4,265.3 L441.7,267.4 L442.1,269.4 L442.4,272.2 L442.7,272.7 L443.0,270.0 L443.3,270.2 L443.6,269.0 L444.0,268.5 L444.3,266.6 L444.6,265.2 L444.9,264.0 L445.2,264.7 L445.6,264.7 L445.9,266.3 L446.2,265.2 L446.5,262.7 L446.8,259.2 L447.2,257.1 L447.5,254.3 L447.8,251.1 L448.1,248.8 L448.4,245.7 L448.8,243.4 L449.1,240.5 L449.4,240.0 L449.7,239.2 L450.0,238.2 L450.4,238.5 L450.7,238.0 L451.0,236.4 L451.3,238.1 L451.6,236.9 L452.0,237.1 L452.3,238.3 L452.6,236.7 L452.9,236.6 L453.2,237.1 L453.6,236.9 L453.9,236.8 L454.2,238.1 L454.5,237.4 L454.8,237.4 L455.2,236.7 L455.5,236.8 L455.8,236.7 L456.1,237.2 L456.4,236.6 L456.8,237.0 L457.1,237.0 L457.4,238.0 L457.7,238.4 L458.0,238.2 L458.4,238.0 L458.7,239.7 L459.0,239.2 L459.3,240.9 L459.6,245.4 L460.0,250.0 L460.3,254.5 L460.6,259.5 L460.9,265.2 L461.2,268.2 L461.6,270.2 L461.9,272.6 L462.2,273.5 L462.5,272.1 L462.8,272.1 L463.2,269.6 L463.5,269.4 L463.8,268.6 L464.1,267.1 L464.4,265.0 L464.8,265.5 L465.1,265.0 L465.4,265.1 L465.7,266.7 L466.0,264.1 L466.4,261.0 L466.7,257.8 L467.0,254.7 L467.3,252.2 L467.6,249.5 L468.0,248.0 L468.3,245.3 L468.6,242.4 L468.9,240.1 L469.2,240.3 L469.6,239.1 L469.9,239.5 L470.2,238.8 L470.5,237.9 L470.8,237.0 L471.2,237.0 L471.5,237.0 L471.8,237.9 L472.1,237.8 L472.4,238.5 L472.8,239.4 L473.1,240.9 L473.4,240.1 L473.7,242.2 L474.0,241.0 L474.4,241.1 L474.7,242.7 L475.0,241.3 L475.3,239.8 L475.6,238.6 L476.0,238.8 L476.3,238.5 L476.6,238.2 L476.9,236.5 L477.2,238.0 L477.6,237.2 L477.9,238.1 L478.2,237.4 L478.5,236.5 L478.8,238.2 L479.2,236.7 L479.5,237.4 L479.8,236.6 L480.1,237.0 L480.4,238.1 L480.8,237.2 L481.1,238.8 L481.4,240.5 L481.7,241.5 L482.0,241.2 L482.3,241.8 L482.7,242.4 L483.0,242.7 L483.3,241.9 L483.6,241.3 L483.9,239.5 L484.3,240.3 L484.6,238.0 L484.9,237.1 L485.2,238.3 L485.5,236.5 L485.9,237.0 L486.2,236.6 L486.5,237.8 L486.8,237.7 L487.1,237.6 L487.5,236.4 L487.8,237.2 L488.1,237.7 L488.4,237.5 L488.7,237.9 L489.1,238.6 L489.4,239.1 L489.7,238.3 L490.0,240.3 L490.3,239.8 L490.7,241.9 L491.0,242.4 L491.3,242.0 L491.6,242.5 L491.9,241.7 L492.3,239.8 L492.6,239.1 L492.9,238.4 L493.2,238.0 L493.5,236.8 L493.9,236.5 L494.2,237.3 L494.5,236.9 L494.8,238.3 L495.1,236.9 L495.5,237.5 L495.8,236.9 L496.1,237.1 L496.4,237.8 L496.7,238.3 L497.1,236.5 L497.4,238.2 L497.7,237.9 L498.0,238.8 L498.3,239.7 L498.7,239.7 L499.0,240.0 L499.3,242.1 L499.6,241.6 L499.9,242.4 L500.3,241.6 L500.6,241.4 L500.9,241.1 L501.2,240.3 L501.5,239.3 L501.9,237.2 L502.2,237.6 L502.5,238.0" fill="none" stroke="#ED7D31" stroke-width="1.3" stroke-linejoin="round"/>
<path d="M309.0,333.6 L309.3,333.4 L309.6,334.5 L310.0,335.2 L310.3,335.1 L310.6,335.3 L310.9,334.8 L311.2,335.3 L311.6,335.0 L311.9,334.9 L312.2,334.3 L312.5,333.6 L312.8,333.9 L313.2,334.6 L313.5,334.6 L313.8,334.4 L314.1,334.7 L314.4,334.8 L314.8,335.3 L315.1,334.9 L315.4,333.5 L315.7,335.2 L316.0,334.4 L316.4,334.2 L316.7,333.7 L317.0,335.0 L317.3,334.9 L317.6,335.0 L318.0,334.6 L318.3,334.5 L318.6,333.5 L318.9,332.1 L319.2,330.5 L319.6,330.6 L319.9,329.0 L320.2,326.0 L320.5,322.9 L320.8,321.1 L321.2,318.2 L321.5,316.7 L321.8,313.3 L322.1,311.8 L322.4,311.7 L322.8,311.4 L323.1,310.8 L323.4,312.0 L323.7,312.0 L324.0,311.5 L324.4,310.1 L324.7,309.2 L325.0,308.0 L325.3,307.8 L325.6,307.4 L326.0,306.5 L326.3,306.5 L326.6,305.7 L326.9,307.5 L327.2,306.8 L327.6,308.7 L327.9,308.1 L328.2,309.4 L328.5,310.9 L328.8,313.1 L329.1,316.8 L329.5,320.1 L329.8,323.9 L330.1,326.7 L330.4,328.3 L330.7,328.8 L331.1,330.2 L331.4,332.1 L331.7,334.0 L332.0,334.2 L332.3,335.4 L332.7,334.8 L333.0,334.5 L333.3,333.5 L333.6,334.1 L333.9,333.6 L334.3,334.5 L334.6,335.0 L334.9,335.0 L335.2,333.5 L335.5,334.0 L335.9,334.8 L336.2,335.4 L336.5,334.4 L336.8,334.1 L337.1,334.6 L337.5,334.9 L337.8,334.1 L338.1,333.6 L338.4,335.0 L338.7,335.4 L339.1,334.8 L339.4,334.6 L339.7,334.1 L340.0,335.1 L340.3,332.0 L340.7,330.4 L341.0,329.1 L341.3,325.3 L341.6,317.9 L341.9,313.6 L342.3,306.8 L342.6,302.3 L342.9,300.7 L343.2,298.1 L343.5,298.5 L343.9,298.5 L344.2,300.8 L344.5,304.6 L344.8,311.4 L345.1,317.9 L345.5,323.1 L345.8,326.0 L346.1,331.1 L346.4,332.2 L346.7,333.2 L347.1,332.2 L347.4,334.6 L347.7,335.4 L348.0,335.3 L348.3,334.7 L348.7,333.6 L349.0,333.6 L349.3,334.0 L349.6,333.4 L349.9,333.5 L350.3,334.8 L350.6,335.1 L350.9,333.5 L351.2,333.9 L351.5,335.4 L351.9,334.1 L352.2,334.7 L352.5,334.7 L352.8,334.8 L353.1,335.1 L353.5,335.5 L353.8,334.9 L354.1,334.7 L354.4,333.5 L354.7,335.2 L355.1,333.5 L355.4,335.0 L355.7,334.7 L356.0,333.8 L356.3,333.8 L356.7,334.6 L357.0,335.4 L357.3,334.5 L357.6,334.7 L357.9,333.6 L358.3,335.1 L358.6,334.7 L358.9,333.6 L359.2,335.4 L359.5,334.6 L359.9,333.8 L360.2,332.7 L360.5,332.4 L360.8,330.6 L361.1,327.7 L361.5,320.8 L361.8,317.1 L362.1,311.1 L362.4,305.7 L362.7,304.1 L363.1,302.7 L363.4,299.7 L363.7,301.8 L364.0,303.9 L364.3,304.4 L364.7,311.0 L365.0,316.9 L365.3,323.3 L365.6,325.2 L365.9,328.4 L366.3,331.5 L366.6,331.5 L366.9,334.0 L367.2,334.2 L367.5,334.3 L367.8,333.5 L368.2,333.5 L368.5,334.7 L368.8,334.9 L369.1,334.6 L369.4,334.4 L369.8,333.6 L370.1,335.1 L370.4,333.8 L370.7,333.9 L371.0,333.8 L371.4,333.9 L371.7,334.2 L372.0,334.8 L372.3,334.8 L372.6,334.7 L373.0,333.9 L373.3,335.3 L373.6,335.1 L373.9,333.9 L374.2,335.0 L374.6,335.3 L374.9,335.4 L375.2,334.3 L375.5,334.8 L375.8,333.4 L376.2,333.6 L376.5,333.4 L376.8,334.9 L377.1,335.3 L377.4,335.3 L377.8,334.4 L378.1,334.0 L378.4,334.5 L378.7,335.0 L379.0,334.6 L379.4,334.2 L379.7,334.1 L380.0,333.9 L380.3,331.9 L380.6,330.5 L381.0,329.8 L381.3,324.2 L381.6,320.1 L381.9,314.2 L382.2,309.3 L382.6,303.3 L382.9,302.8 L383.2,301.2 L383.5,300.6 L383.8,302.2 L384.2,302.1 L384.5,305.7 L384.8,312.4 L385.1,318.4 L385.4,322.4 L385.8,326.9 L386.1,331.0 L386.4,331.3 L386.7,332.3 L387.0,332.2 L387.4,334.6 L387.7,334.5 L388.0,333.8 L388.3,333.7 L388.6,333.6 L389.0,335.4 L389.3,334.9 L389.6,335.2 L389.9,335.1 L390.2,333.5 L390.6,334.3 L390.9,333.6 L391.2,334.7 L391.5,333.7 L391.8,334.5 L392.2,334.9 L392.5,333.9 L392.8,333.5 L393.1,335.2 L393.4,334.2 L393.8,334.2 L394.1,335.0 L394.4,334.7 L394.7,335.2 L395.0,335.0 L395.4,334.9 L395.7,334.2 L396.0,334.1 L396.3,335.0 L396.6,335.4 L397.0,334.8 L397.3,334.1 L397.6,335.1 L397.9,334.8 L398.2,335.0 L398.6,333.8 L398.9,334.3 L399.2,335.3 L399.5,334.7 L399.8,332.3 L400.2,330.2 L400.5,328.2 L400.8,323.8 L401.1,318.1 L401.4,311.5 L401.8,306.6 L402.1,302.7 L402.4,301.1 L402.7,298.2 L403.0,299.9 L403.4,300.8 L403.7,302.6 L404.0,307.3 L404.3,312.9 L404.6,319.1 L404.9,324.9 L405.3,328.7 L405.6,331.1 L405.9,332.8 L406.2,333.8 L406.5,332.6 L406.9,334.2 L407.2,333.8 L407.5,334.6 L407.8,333.6 L408.1,334.5 L408.5,335.1 L408.8,335.4 L409.1,334.3 L409.4,334.1 L409.7,333.6 L410.1,335.3 L410.4,334.2 L410.7,334.7 L411.0,334.4 L411.3,335.2 L411.7,334.9 L412.0,334.4 L412.3,333.6 L412.6,335.2 L412.9,334.5 L413.3,333.8 L413.6,333.5 L413.9,335.1 L414.2,335.2 L414.5,333.5 L414.9,333.5 L415.2,334.5 L415.5,335.4 L415.8,333.6 L416.1,334.7 L416.5,333.6 L416.8,334.2 L417.1,333.8 L417.4,335.1 L417.7,333.8 L418.1,335.0 L418.4,334.6 L418.7,333.7 L419.0,333.8 L419.3,334.5 L419.7,332.6 L420.0,330.5 L420.3,328.4 L420.6,323.0 L420.9,317.8 L421.3,311.8 L421.6,305.1 L421.9,300.4 L422.2,300.6 L422.5,298.0 L422.9,298.0 L423.2,300.8 L423.5,300.6 L423.8,307.1 L424.1,312.9 L424.5,319.9 L424.8,324.3 L425.1,328.5 L425.4,331.7 L425.7,332.0 L426.1,332.9 L426.4,333.1 L426.7,334.1 L427.0,334.6 L427.3,335.4 L427.7,334.2 L428.0,334.5 L428.3,335.0 L428.6,333.9 L428.9,333.9 L429.3,334.5 L429.6,335.1 L429.9,334.5 L430.2,335.2 L430.5,335.2 L430.9,334.6 L431.2,335.3 L431.5,334.6 L431.8,334.4 L432.1,335.4 L432.5,334.2 L432.8,335.3 L433.1,334.0 L433.4,333.9 L433.7,334.4 L434.1,335.4 L434.4,334.4 L434.7,334.7 L435.0,333.5 L435.3,335.2 L435.7,333.7 L436.0,333.4 L436.3,334.0 L436.6,333.8 L436.9,335.1 L437.3,333.4 L437.6,334.5 L437.9,333.5 L438.2,333.6 L438.5,335.1 L438.9,333.8 L439.2,333.0 L439.5,332.9 L439.8,330.6 L440.1,327.9 L440.5,323.7 L440.8,316.6 L441.1,312.4 L441.4,305.8 L441.7,303.0 L442.1,300.7 L442.4,298.3 L442.7,300.1 L443.0,301.4 L443.3,302.3 L443.6,307.5 L444.0,314.6 L444.3,320.8 L444.6,325.3 L444.9,327.2 L445.2,331.2 L445.6,331.4 L445.9,333.5 L446.2,332.8 L446.5,334.8 L446.8,334.4 L447.2,334.2 L447.5,334.7 L447.8,333.7 L448.1,334.3 L448.4,334.3 L448.8,333.6 L449.1,335.2 L449.4,333.4 L449.7,334.2 L450.0,334.7 L450.4,333.8 L450.7,334.9 L451.0,333.4 L451.3,334.3 L451.6,334.7 L452.0,333.9 L452.3,334.6 L452.6,335.1 L452.9,333.9 L453.2,335.4 L453.6,333.8 L453.9,334.9 L454.2,334.1 L454.5,333.4 L454.8,334.3 L455.2,334.1 L455.5,334.8 L455.8,335.5 L456.1,335.4 L456.4,335.2 L456.8,334.2 L457.1,334.6 L457.4,334.4 L457.7,333.6 L458.0,335.2 L458.4,335.0 L458.7,334.1 L459.0,333.6 L459.3,331.9 L459.6,329.4 L460.0,325.5 L460.3,319.2 L460.6,313.7 L460.9,307.3 L461.2,301.5 L461.6,300.8 L461.9,298.4 L462.2,298.1 L462.5,300.2 L462.8,299.9 L463.2,304.5 L463.5,311.6 L463.8,318.6 L464.1,323.2 L464.4,326.2 L464.8,329.8 L465.1,332.2 L465.4,333.1 L465.7,334.2 L466.0,333.5 L466.4,334.3 L466.7,334.7 L467.0,334.1 L467.3,334.6 L467.6,333.5 L468.0,334.0 L468.3,335.0 L468.6,333.6 L468.9,335.4 L469.2,334.4 L469.6,334.6 L469.9,335.0 L470.2,335.3 L470.5,333.9 L470.8,335.4 L471.2,334.3 L471.5,333.5 L471.8,335.2 L472.1,335.1 L472.4,334.2 L472.8,334.4 L473.1,334.1 L473.4,333.8 L473.7,335.1 L474.0,334.8 L474.4,334.8 L474.7,335.4 L475.0,333.6 L475.3,333.9 L475.6,334.0 L476.0,335.5 L476.3,333.7 L476.6,333.9 L476.9,334.5 L477.2,333.9 L477.6,334.5 L477.9,335.0 L478.2,335.2 L478.5,335.0 L478.8,335.4 L479.2,334.8 L479.5,333.9 L479.8,334.0 L480.1,333.7 L480.4,334.0 L480.8,334.9 L481.1,334.3 L481.4,334.6 L481.7,333.8 L482.0,334.4 L482.3,334.9 L482.7,334.1 L483.0,333.5 L483.3,335.0 L483.6,333.7 L483.9,335.4 L484.3,334.9 L484.6,335.0 L484.9,333.9 L485.2,333.5 L485.5,333.9 L485.9,334.8 L486.2,333.7 L486.5,334.8 L486.8,335.0 L487.1,333.6 L487.5,334.2 L487.8,334.0 L488.1,334.1 L488.4,333.5 L488.7,334.5 L489.1,333.7 L489.4,334.0 L489.7,333.7 L490.0,334.6 L490.3,334.0 L490.7,334.3 L491.0,334.8 L491.3,335.0 L491.6,334.2 L491.9,335.3 L492.3,333.6 L492.6,335.2 L492.9,335.4 L493.2,335.2 L493.5,333.6 L493.9,334.8 L494.2,335.2 L494.5,335.4 L494.8,335.4 L495.1,334.0 L495.5,334.2 L495.8,334.0 L496.1,333.9 L496.4,335.3 L496.7,334.3 L497.1,334.7 L497.4,333.8 L497.7,333.8 L498.0,333.6 L498.3,335.3 L498.7,333.7 L499.0,333.6 L499.3,333.5 L499.6,335.2 L499.9,335.0 L500.3,335.2 L500.6,335.4 L500.9,333.7 L501.2,333.8 L501.5,334.2 L501.9,333.8 L502.2,334.2 L502.5,334.9" fill="none" stroke="#1FB1E6" stroke-width="1.3" stroke-linejoin="round"/>
<path d="M309.0,336.4 L309.3,336.4 L309.6,335.9 L310.0,336.3 L310.3,336.2 L310.6,336.1 L310.9,336.4 L311.2,336.3 L311.6,336.2 L311.9,335.9 L312.2,336.2 L312.5,336.2 L312.8,335.7 L313.2,336.1 L313.5,335.8 L313.8,336.0 L314.1,336.4 L314.4,336.1 L314.8,336.1 L315.1,335.9 L315.4,336.2 L315.7,335.9 L316.0,336.1 L316.4,336.3 L316.7,335.8 L317.0,336.4 L317.3,335.9 L317.6,336.3 L318.0,336.4 L318.3,336.3 L318.6,335.9 L318.9,335.7 L319.2,336.4 L319.6,336.1 L319.9,336.1 L320.2,335.9 L320.5,336.3 L320.8,336.1 L321.2,336.2 L321.5,335.8 L321.8,336.3 L322.1,335.8 L322.4,336.2 L322.8,336.3 L323.1,335.9 L323.4,336.1 L323.7,336.4 L324.0,336.0 L324.4,336.4 L324.7,335.9 L325.0,335.9 L325.3,335.9 L325.6,336.0 L326.0,336.2 L326.3,336.2 L326.6,336.2 L326.9,335.8 L327.2,336.4 L327.6,335.8 L327.9,336.4 L328.2,336.3 L328.5,336.3 L328.8,335.8 L329.1,336.1 L329.5,336.2 L329.8,335.8 L330.1,336.3 L330.4,336.1 L330.7,336.1 L331.1,335.9 L331.4,335.9 L331.7,336.0 L332.0,336.2 L332.3,336.2 L332.7,336.3 L333.0,335.8 L333.3,336.0 L333.6,335.9 L333.9,336.3 L334.3,336.1 L334.6,335.9 L334.9,336.0 L335.2,336.4 L335.5,336.1 L335.9,335.8 L336.2,336.3 L336.5,336.3 L336.8,336.2 L337.1,335.9 L337.5,335.8 L337.8,336.3 L338.1,336.3 L338.4,336.3 L338.7,336.2 L339.1,336.1 L339.4,336.3 L339.7,336.2 L340.0,336.3 L340.3,335.7 L340.7,335.9 L341.0,336.4 L341.3,335.7 L341.6,336.4 L341.9,336.2 L342.3,335.7 L342.6,335.9 L342.9,335.9 L343.2,336.1 L343.5,336.3 L343.9,336.0 L344.2,336.1 L344.5,335.1 L344.8,334.1 L345.1,333.5 L345.5,330.9 L345.8,325.5 L346.1,320.4 L346.4,315.4 L346.7,311.5 L347.1,310.3 L347.4,309.2 L347.7,309.5 L348.0,310.4 L348.3,310.8 L348.7,316.5 L349.0,322.6 L349.3,327.4 L349.6,330.3 L349.9,333.7 L350.3,335.2 L350.6,335.4 L350.9,335.8 L351.2,335.9 L351.5,335.9 L351.9,335.8 L352.2,336.0 L352.5,336.0 L352.8,336.1 L353.1,336.2 L353.5,336.0 L353.8,336.4 L354.1,336.1 L354.4,335.9 L354.7,335.9 L355.1,336.0 L355.4,336.3 L355.7,336.1 L356.0,336.1 L356.3,336.0 L356.7,336.1 L357.0,336.0 L357.3,335.8 L357.6,336.3 L357.9,336.0 L358.3,335.9 L358.6,336.2 L358.9,336.1 L359.2,335.7 L359.5,336.4 L359.9,336.1 L360.2,336.3 L360.5,335.9 L360.8,335.8 L361.1,336.1 L361.5,336.4 L361.8,336.0 L362.1,336.1 L362.4,335.9 L362.7,336.1 L363.1,336.0 L363.4,335.8 L363.7,336.1 L364.0,336.1 L364.3,334.9 L364.7,334.5 L365.0,333.3 L365.3,332.7 L365.6,327.5 L365.9,323.1 L366.3,317.6 L366.6,313.1 L366.9,312.0 L367.2,310.5 L367.5,310.5 L367.8,311.4 L368.2,311.8 L368.5,315.7 L368.8,320.9 L369.1,326.5 L369.4,329.7 L369.8,332.8 L370.1,334.6 L370.4,335.0 L370.7,335.9 L371.0,336.3 L371.4,335.9 L371.7,336.2 L372.0,336.3 L372.3,336.3 L372.6,335.9 L373.0,335.9 L373.3,336.0 L373.6,336.1 L373.9,336.0 L374.2,336.3 L374.6,335.7 L374.9,336.2 L375.2,336.0 L375.5,335.9 L375.8,335.9 L376.2,336.1 L376.5,336.2 L376.8,336.0 L377.1,336.4 L377.4,335.8 L377.8,336.2 L378.1,335.8 L378.4,336.3 L378.7,336.2 L379.0,336.3 L379.4,336.1 L379.7,336.3 L380.0,336.4 L380.3,335.9 L380.6,336.2 L381.0,336.3 L381.3,336.2 L381.6,336.1 L381.9,336.1 L382.2,336.0 L382.6,336.0 L382.9,336.2 L383.2,335.8 L383.5,335.8 L383.8,336.4 L384.2,335.6 L384.5,334.6 L384.8,333.8 L385.1,333.4 L385.4,330.7 L385.8,326.0 L386.1,321.5 L386.4,316.6 L386.7,312.3 L387.0,311.2 L387.4,310.1 L387.7,310.9 L388.0,311.6 L388.3,312.2 L388.6,317.2 L389.0,322.9 L389.3,327.7 L389.6,330.2 L389.9,333.4 L390.2,335.2 L390.6,335.3 L390.9,336.0 L391.2,335.9 L391.5,336.0 L391.8,335.8 L392.2,335.9 L392.5,335.8 L392.8,336.3 L393.1,335.9 L393.4,336.1 L393.8,335.9 L394.1,336.1 L394.4,335.8 L394.7,336.0 L395.0,336.3 L395.4,336.3 L395.7,336.3 L396.0,336.1 L396.3,336.4 L396.6,336.1 L397.0,336.3 L397.3,336.1 L397.6,336.1 L397.9,336.1 L398.2,335.8 L398.6,336.4 L398.9,335.8 L399.2,336.1 L399.5,336.0 L399.8,336.0 L400.2,335.8 L400.5,336.2 L400.8,336.1 L401.1,335.8 L401.4,336.4 L401.8,336.0 L402.1,336.0 L402.4,336.4 L402.7,336.0 L403.0,336.0 L403.4,335.8 L403.7,335.6 L404.0,334.3 L404.3,333.7 L404.6,332.9 L404.9,328.7 L405.3,323.9 L405.6,318.0 L405.9,312.7 L406.2,310.2 L406.5,308.5 L406.9,308.2 L407.2,308.8 L407.5,309.5 L407.8,311.8 L408.1,318.4 L408.5,324.4 L408.8,328.5 L409.1,331.5 L409.4,334.4 L409.7,335.3 L410.1,335.5 L410.4,336.2 L410.7,336.1 L411.0,336.2 L411.3,336.1 L411.7,335.7 L412.0,336.0 L412.3,335.9 L412.6,336.2 L412.9,336.2 L413.3,336.2 L413.6,336.0 L413.9,336.0 L414.2,335.9 L414.5,336.4 L414.9,335.9 L415.2,335.8 L415.5,336.0 L415.8,336.4 L416.1,336.2 L416.5,336.4 L416.8,336.3 L417.1,335.8 L417.4,336.0 L417.7,336.0 L418.1,335.9 L418.4,335.8 L418.7,336.0 L419.0,336.0 L419.3,336.0 L419.7,335.9 L420.0,336.0 L420.3,336.0 L420.6,336.3 L420.9,336.0 L421.3,336.1 L421.6,335.9 L421.9,336.4 L422.2,336.3 L422.5,336.4 L422.9,335.9 L423.2,335.8 L423.5,335.4 L423.8,334.7 L424.1,333.5 L424.5,332.7 L424.8,329.1 L425.1,324.2 L425.4,319.0 L425.7,313.8 L426.1,311.3 L426.4,309.8 L426.7,309.0 L427.0,309.5 L427.3,310.8 L427.7,312.9 L428.0,319.0 L428.3,324.8 L428.6,328.2 L428.9,331.5 L429.3,334.3 L429.6,335.2 L429.9,336.1 L430.2,336.2 L430.5,336.0 L430.9,335.8 L431.2,335.7 L431.5,336.1 L431.8,336.1 L432.1,336.4 L432.5,336.0 L432.8,336.3 L433.1,336.3 L433.4,336.4 L433.7,336.4 L434.1,336.0 L434.4,336.4 L434.7,335.7 L435.0,336.4 L435.3,335.8 L435.7,336.3 L436.0,336.4 L436.3,335.9 L436.6,336.3 L436.9,335.9 L437.3,336.3 L437.6,336.4 L437.9,335.9 L438.2,335.9 L438.5,335.8 L438.9,335.9 L439.2,336.4 L439.5,336.0 L439.8,335.9 L440.1,336.1 L440.5,335.8 L440.8,336.3 L441.1,335.7 L441.4,335.9 L441.7,336.4 L442.1,336.4 L442.4,336.0 L442.7,335.9 L443.0,336.4 L443.3,335.6 L443.6,334.5 L444.0,334.0 L444.3,332.6 L444.6,329.8 L444.9,326.0 L445.2,321.7 L445.6,317.4 L445.9,315.3 L446.2,313.8 L446.5,313.5 L446.8,313.7 L447.2,314.7 L447.5,316.4 L447.8,320.7 L448.1,325.1 L448.4,328.6 L448.8,331.3 L449.1,334.3 L449.4,335.0 L449.7,335.7 L450.0,336.2 L450.4,336.4 L450.7,335.7 L451.0,335.9 L451.3,335.8 L451.6,336.2 L452.0,336.0 L452.3,335.7 L452.6,335.8 L452.9,336.0 L453.2,336.2 L453.6,336.1 L453.9,335.8 L454.2,336.2 L454.5,335.9 L454.8,336.0 L455.2,335.8 L455.5,335.9 L455.8,336.2 L456.1,336.4 L456.4,336.3 L456.8,336.1 L457.1,336.0 L457.4,335.9 L457.7,335.8 L458.0,336.4 L458.4,335.8 L458.7,335.9 L459.0,335.8 L459.3,336.0 L459.6,336.2 L460.0,335.8 L460.3,335.9 L460.6,335.9 L460.9,335.8 L461.2,336.2 L461.6,336.4 L461.9,336.0 L462.2,335.9 L462.5,336.3 L462.8,335.6 L463.2,334.6 L463.5,334.2 L463.8,333.1 L464.1,330.8 L464.4,326.1 L464.8,321.4 L465.1,316.5 L465.4,312.4 L465.7,311.1 L466.0,310.0 L466.4,310.9 L466.7,311.1 L467.0,311.8 L467.3,317.6 L467.6,322.8 L468.0,327.2 L468.3,330.2 L468.6,333.6 L468.9,335.0 L469.2,335.5 L469.6,336.3 L469.9,336.3 L470.2,336.3 L470.5,335.9 L470.8,336.2 L471.2,336.0 L471.5,336.2 L471.8,336.1 L472.1,336.2 L472.4,335.8 L472.8,334.4 L473.1,333.9 L473.4,333.1 L473.7,331.9 L474.0,331.3 L474.4,331.7 L474.7,331.7 L475.0,332.6 L475.3,333.4 L475.6,334.8 L476.0,335.6 L476.3,335.5 L476.6,335.8 L476.9,336.1 L477.2,336.0 L477.6,336.3 L477.9,335.9 L478.2,336.1 L478.5,335.8 L478.8,335.9 L479.2,335.9 L479.5,335.7 L479.8,336.3 L480.1,336.4 L480.4,336.3 L480.8,336.1 L481.1,335.6 L481.4,334.7 L481.7,333.4 L482.0,332.2 L482.3,331.8 L482.7,331.2 L483.0,331.3 L483.3,332.3 L483.6,332.7 L483.9,333.8 L484.3,335.0 L484.6,335.2 L484.9,336.2 L485.2,336.0 L485.5,336.0 L485.9,335.8 L486.2,336.0 L486.5,336.2 L486.8,336.1 L487.1,336.3 L487.5,335.7 L487.8,335.7 L488.1,336.3 L488.4,336.4 L488.7,336.3 L489.1,336.2 L489.4,335.4 L489.7,334.7 L490.0,333.9 L490.3,333.4 L490.7,332.0 L491.0,331.5 L491.3,331.3 L491.6,331.3 L491.9,332.6 L492.3,333.4 L492.6,333.9 L492.9,334.7 L493.2,335.6 L493.5,336.2 L493.9,336.0 L494.2,335.9 L494.5,336.4 L494.8,336.2 L495.1,336.3 L495.5,336.4 L495.8,336.1 L496.1,336.3 L496.4,336.3 L496.7,336.3 L497.1,336.0 L497.4,336.4 L497.7,335.8 L498.0,335.7 L498.3,335.1 L498.7,333.5 L499.0,333.0 L499.3,331.7 L499.6,331.3 L499.9,331.2 L500.3,332.1 L500.6,332.6 L500.9,333.7 L501.2,334.1 L501.5,335.0 L501.9,335.8 L502.2,336.1 L502.5,336.2" fill="none" stroke="#7030A0" stroke-width="1.3" stroke-linejoin="round"/>
<rect x="474.8" y="252.7" width="30.4" height="49.8" fill="#bfbfbf"/>
<line x1="477.5" x2="487.0" y1="261.3" y2="261.3" stroke="#7030A0" stroke-width="1.1"/>
<text x="488.0" y="264.9" font-size="10.2" fill="#4f4f4f">In</text>
<line x1="477.5" x2="487.0" y1="278.3" y2="278.3" stroke="#1FB1E6" stroke-width="1.1"/>
<text x="488.0" y="281.9" font-size="10.2" fill="#4f4f4f">Al</text>
<line x1="477.5" x2="487.0" y1="295.0" y2="295.0" stroke="#ED7D31" stroke-width="1.1"/>
<text x="488.0" y="298.6" font-size="10.2" fill="#4f4f4f">Ga</text>
<text x="269.5" y="368.8" font-size="12" fill="#000">(d)</text>
<line x1="299.0" x2="507.0" y1="552.0" y2="552.0" stroke="#e8e8e8" stroke-width="0.7"/>
<text x="288.0" y="555.8" text-anchor="end" font-size="10.8" fill="#4f4f4f">0</text>
<line x1="299.0" x2="507.0" y1="531.5" y2="531.5" stroke="#e8e8e8" stroke-width="0.7"/>
<text x="288.0" y="535.3" text-anchor="end" font-size="10.8" fill="#4f4f4f">20</text>
<line x1="299.0" x2="507.0" y1="511.0" y2="511.0" stroke="#e8e8e8" stroke-width="0.7"/>
<text x="288.0" y="514.8" text-anchor="end" font-size="10.8" fill="#4f4f4f">40</text>
<line x1="299.0" x2="507.0" y1="490.4" y2="490.4" stroke="#e8e8e8" stroke-width="0.7"/>
<text x="288.0" y="494.2" text-anchor="end" font-size="10.8" fill="#4f4f4f">60</text>
<line x1="299.0" x2="507.0" y1="469.9" y2="469.9" stroke="#e8e8e8" stroke-width="0.7"/>
<text x="288.0" y="473.7" text-anchor="end" font-size="10.8" fill="#4f4f4f">80</text>
<line x1="299.0" x2="507.0" y1="449.4" y2="449.4" stroke="#e8e8e8" stroke-width="0.7"/>
<text x="288.0" y="453.2" text-anchor="end" font-size="10.8" fill="#4f4f4f">100</text>
<line x1="299.0" x2="299.0" y1="552.0" y2="449.4" stroke="#e8e8e8" stroke-width="0.7"/>
<text x="299.0" y="571.7" text-anchor="middle" font-size="10.8" fill="#4f4f4f">5</text>
<line x1="351.0" x2="351.0" y1="552.0" y2="449.4" stroke="#e8e8e8" stroke-width="0.7"/>
<text x="351.0" y="571.7" text-anchor="middle" font-size="10.8" fill="#4f4f4f">15</text>
<line x1="403.0" x2="403.0" y1="552.0" y2="449.4" stroke="#e8e8e8" stroke-width="0.7"/>
<text x="403.0" y="571.7" text-anchor="middle" font-size="10.8" fill="#4f4f4f">25</text>
<line x1="455.0" x2="455.0" y1="552.0" y2="449.4" stroke="#e8e8e8" stroke-width="0.7"/>
<text x="455.0" y="571.7" text-anchor="middle" font-size="10.8" fill="#4f4f4f">35</text>
<line x1="507.0" x2="507.0" y1="552.0" y2="449.4" stroke="#e8e8e8" stroke-width="0.7"/>
<text x="507.0" y="571.7" text-anchor="middle" font-size="10.8" fill="#4f4f4f">45</text>
<text transform="translate(264.2,505.0) rotate(-90)" text-anchor="middle" font-size="10.8" fill="#4f4f4f">Atom fraction (%)</text>
<text x="403.0" y="583.6" text-anchor="middle" font-size="10.8" fill="#4f4f4f">Position (nm)</text>
<path d="M299.0,452.6 L299.5,452.9 L300.0,452.8 L300.6,453.4 L301.1,453.4 L301.6,453.7 L302.1,453.1 L302.6,453.3 L303.2,453.8 L303.7,453.1 L304.2,453.7 L304.7,453.6 L305.2,453.8 L305.8,453.6 L306.3,452.9 L306.8,453.3 L307.3,453.3 L307.8,452.9 L308.4,453.0 L308.9,452.3 L309.4,453.1 L309.9,452.2 L310.4,453.1 L311.0,452.3 L311.5,452.5 L312.0,453.0 L312.5,452.8 L313.0,453.0 L313.6,453.0 L314.1,453.1 L314.6,453.0 L315.1,452.3 L315.6,452.3 L316.2,452.4 L316.7,453.3 L317.2,453.1 L317.7,452.5 L318.2,453.5 L318.8,453.1 L319.3,453.9 L319.8,453.7 L320.3,455.2 L320.8,454.9 L321.4,455.9 L321.9,456.6 L322.4,457.1 L322.9,456.5 L323.4,457.0 L324.0,457.9 L324.5,458.7 L325.0,459.7 L325.5,462.1 L326.0,463.3 L326.6,464.8 L327.1,465.3 L327.6,465.1 L328.1,466.0 L328.6,467.7 L329.2,469.0 L329.7,470.1 L330.2,470.4 L330.7,471.0 L331.2,471.4 L331.8,472.0 L332.3,472.2 L332.8,472.5 L333.3,472.7 L333.8,472.2 L334.4,471.1 L334.9,469.5 L335.4,467.3 L335.9,466.9 L336.4,468.1 L337.0,471.4 L337.5,472.2 L338.0,472.6 L338.5,471.9 L339.0,471.6 L339.6,471.7 L340.1,472.0 L340.6,471.0 L341.1,471.6 L341.6,471.4 L342.2,472.4 L342.7,472.8 L343.2,472.5 L343.7,473.3 L344.2,473.7 L344.8,473.6 L345.3,473.3 L345.8,473.6 L346.3,473.0 L346.8,471.9 L347.4,469.6 L347.9,467.8 L348.4,466.1 L348.9,467.1 L349.4,469.2 L350.0,472.6 L350.5,475.0 L351.0,477.5 L351.5,478.2 L352.0,479.7 L352.6,480.6 L353.1,482.9 L353.6,486.1 L354.1,489.1 L354.6,491.9 L355.2,494.2 L355.7,496.4 L356.2,496.3 L356.7,496.2 L357.2,494.5 L357.8,492.2 L358.3,489.2 L358.8,485.6 L359.3,483.6 L359.8,481.1 L360.4,478.8 L360.9,478.4 L361.4,478.2 L361.9,476.7 L362.4,475.6 L363.0,474.3 L363.5,472.7 L364.0,472.1 L364.5,470.5 L365.0,470.2 L365.6,471.4 L366.1,472.5 L366.6,473.4 L367.1,474.5 L367.6,475.3 L368.2,476.5 L368.7,478.4 L369.2,481.7 L369.7,484.7 L370.2,487.9 L370.8,491.6 L371.3,493.4 L371.8,494.3 L372.3,493.9 L372.8,491.3 L373.4,488.6 L373.9,485.9 L374.4,482.3 L374.9,478.3 L375.4,475.4 L376.0,472.9 L376.5,470.4 L377.0,469.6 L377.5,469.7 L378.0,469.1 L378.6,467.9 L379.1,466.5 L379.6,464.5 L380.1,463.2 L380.6,461.7 L381.2,460.5 L381.7,459.4 L382.2,459.5 L382.7,458.6 L383.2,458.7 L383.8,459.7 L384.3,461.9 L384.8,463.3 L385.3,464.8 L385.8,466.5 L386.4,467.3 L386.9,468.3 L387.4,469.1 L387.9,471.3 L388.4,475.1 L389.0,478.8 L389.5,482.3 L390.0,486.7 L390.5,490.5 L391.0,494.0 L391.6,496.1 L392.1,497.2 L392.6,495.8 L393.1,493.8 L393.6,489.2 L394.2,485.0 L394.7,480.0 L395.2,476.5 L395.7,473.4 L396.2,471.5 L396.8,471.0 L397.3,469.8 L397.8,467.3 L398.3,465.3 L398.8,463.1 L399.4,463.0 L399.9,464.0 L400.4,465.9 L400.9,469.3 L401.4,471.7 L402.0,473.5 L402.5,475.0 L403.0,476.8 L403.5,479.7 L404.0,483.9 L404.6,489.3 L405.1,494.2 L405.6,498.5 L406.1,501.4 L406.6,502.8 L407.2,501.4 L407.7,498.2 L408.2,493.9 L408.7,488.3 L409.2,482.9 L409.8,478.7 L410.3,475.5 L410.8,473.9 L411.3,473.5 L411.8,471.3 L412.4,469.3 L412.9,466.5 L413.4,463.8 L413.9,461.7 L414.4,460.2 L415.0,459.4 L415.5,460.5 L416.0,462.6 L416.5,465.7 L417.0,468.5 L417.6,471.4 L418.1,472.1 L418.6,473.6 L419.1,478.5 L419.6,483.1 L420.2,487.4 L420.7,489.6 L421.2,488.4 L421.7,488.1 L422.2,487.1 L422.8,488.9 L423.3,491.2 L423.8,491.6 L424.3,491.2 L424.8,490.1 L425.4,487.6 L425.9,484.9 L426.4,481.7 L426.9,479.5 L427.4,476.8 L428.0,473.8 L428.5,472.5 L429.0,472.3 L429.5,471.7 L430.0,470.9 L430.6,469.4 L431.1,468.0 L431.6,466.1 L432.1,464.4 L432.6,462.8 L433.2,460.8 L433.7,459.2 L434.2,457.7 L434.7,456.8 L435.2,455.7 L435.8,455.3 L436.3,455.2 L436.8,456.1 L437.3,455.5 L437.8,456.5 L438.4,455.8 L438.9,456.6 L439.4,458.0 L439.9,459.4 L440.4,461.9 L441.0,464.2 L441.5,465.6 L442.0,466.8 L442.5,467.8 L443.0,468.7 L443.6,470.1 L444.1,472.1 L444.6,474.2 L445.1,477.4 L445.6,480.2 L446.2,482.8 L446.7,485.4 L447.2,487.4 L447.7,488.4 L448.2,489.1 L448.8,488.6 L449.3,487.1 L449.8,485.1 L450.3,482.3 L450.8,479.7 L451.4,476.5 L451.9,474.3 L452.4,473.2 L452.9,471.5 L453.4,471.7 L454.0,470.5 L454.5,469.4 L455.0,467.9 L455.5,467.2 L456.0,465.4 L456.6,463.3 L457.1,462.7 L457.6,461.3 L458.1,459.7 L458.6,459.0 L459.2,458.2 L459.7,458.7 L460.2,459.5 L460.7,460.0 L461.2,461.5 L461.8,462.7 L462.3,463.7 L462.8,465.1 L463.3,466.0 L463.8,466.4 L464.4,467.0 L464.9,466.8 L465.4,467.7 L465.9,468.8 L466.4,470.5 L467.0,471.6 L467.5,473.0 L468.0,474.5 L468.5,476.1 L469.0,477.3 L469.6,478.6 L470.1,480.2 L470.6,481.2 L471.1,481.7 L471.6,481.7 L472.2,482.2 L472.7,481.5 L473.2,480.6 L473.7,480.5 L474.2,479.6 L474.8,478.3 L475.3,478.0 L475.8,478.1 L476.3,478.2 L476.8,476.9 L477.4,476.3 L477.9,475.2 L478.4,474.1 L478.9,473.5 L479.4,473.4 L480.0,473.4 L480.5,472.7 L481.0,471.3 L481.5,469.7 L482.0,468.4 L482.6,466.8 L483.1,465.2 L483.6,464.7 L484.1,464.6 L484.6,463.4 L485.2,462.9 L485.7,462.4 L486.2,460.9 L486.7,459.3 L487.2,458.6 L487.8,457.1 L488.3,457.0 L488.8,456.1 L489.3,455.2 L489.8,455.4 L490.4,455.3 L490.9,455.7 L491.4,455.3 L491.9,455.2 L492.4,455.4 L493.0,454.9 L493.5,454.9 L494.0,454.3 L494.5,454.7 L495.0,454.8 L495.6,455.0 L496.1,454.9 L496.6,454.3 L497.1,454.9 L497.6,454.9 L498.2,454.7 L498.7,454.3 L499.2,453.9 L499.7,454.0 L500.2,453.7 L500.8,454.4 L501.3,454.3 L501.8,453.4 L502.3,453.8 L502.8,453.3 L503.4,453.5 L503.9,453.6 L504.4,453.4 L504.9,453.5 L505.4,452.6 L506.0,452.9 L506.5,453.1 L507.0,452.9" fill="none" stroke="#ED7D31" stroke-width="1.3" stroke-linejoin="round"/>
<path d="M299.0,550.5 L299.5,550.9 L300.0,549.8 L300.6,550.0 L301.1,549.5 L301.6,550.0 L302.1,549.6 L302.6,550.0 L303.2,550.1 L303.7,548.9 L304.2,549.0 L304.7,549.7 L305.2,549.1 L305.8,549.3 L306.3,550.0 L306.8,549.8 L307.3,549.5 L307.8,550.2 L308.4,549.8 L308.9,550.7 L309.4,550.6 L309.9,550.1 L310.4,550.7 L311.0,550.4 L311.5,549.6 L312.0,549.9 L312.5,549.4 L313.0,549.9 L313.6,549.9 L314.1,549.6 L314.6,549.7 L315.1,548.8 L315.6,549.7 L316.2,549.4 L316.7,550.0 L317.2,549.6 L317.7,549.8 L318.2,549.9 L318.8,550.4 L319.3,550.4 L319.8,549.5 L320.3,550.1 L320.8,549.8 L321.4,549.0 L321.9,547.6 L322.4,546.2 L322.9,545.0 L323.4,542.9 L324.0,542.4 L324.5,542.2 L325.0,541.1 L325.5,541.2 L326.0,539.9 L326.6,538.0 L327.1,537.5 L327.6,535.7 L328.1,533.9 L328.6,532.7 L329.2,532.5 L329.7,531.5 L330.2,530.7 L330.7,530.9 L331.2,529.9 L331.8,530.3 L332.3,529.1 L332.8,529.4 L333.3,530.4 L333.8,531.5 L334.4,533.5 L334.9,534.2 L335.4,535.4 L335.9,534.0 L336.4,533.1 L337.0,531.9 L337.5,530.9 L338.0,529.8 L338.5,530.5 L339.0,530.2 L339.6,531.7 L340.1,531.7 L340.6,531.9 L341.1,532.1 L341.6,531.1 L342.2,531.1 L342.7,530.4 L343.2,530.4 L343.7,530.3 L344.2,529.5 L344.8,529.0 L345.3,528.1 L345.8,526.9 L346.3,528.4 L346.8,529.6 L347.4,532.5 L347.9,534.1 L348.4,536.0 L348.9,536.6 L349.4,536.0 L350.0,534.6 L350.5,532.0 L351.0,529.5 L351.5,527.3 L352.0,524.9 L352.6,524.6 L353.1,523.4 L353.6,520.7 L354.1,518.1 L354.6,514.9 L355.2,512.1 L355.7,510.9 L356.2,509.7 L356.7,511.4 L357.2,513.4 L357.8,517.2 L358.3,521.7 L358.8,525.4 L359.3,527.9 L359.8,529.2 L360.4,530.1 L360.9,530.1 L361.4,531.8 L361.9,532.7 L362.4,534.6 L363.0,535.9 L363.5,536.0 L364.0,537.0 L364.5,537.4 L365.0,537.5 L365.6,536.0 L366.1,533.9 L366.6,532.0 L367.1,530.4 L367.6,529.6 L368.2,528.7 L368.7,525.8 L369.2,521.9 L369.7,518.7 L370.2,514.4 L370.8,512.1 L371.3,510.7 L371.8,512.4 L372.3,514.3 L372.8,517.0 L373.4,521.0 L373.9,525.3 L374.4,527.9 L374.9,531.0 L375.4,533.7 L376.0,535.1 L376.5,534.6 L377.0,535.7 L377.5,537.7 L378.0,538.9 L378.6,540.7 L379.1,541.5 L379.6,543.7 L380.1,544.0 L380.6,545.1 L381.2,546.4 L381.7,545.4 L382.2,545.5 L382.7,544.5 L383.2,543.9 L383.8,544.0 L384.3,543.8 L384.8,542.4 L385.3,542.9 L385.8,541.3 L386.4,539.9 L386.9,537.4 L387.4,534.2 L387.9,530.9 L388.4,527.3 L389.0,523.9 L389.5,519.3 L390.0,516.1 L390.5,513.0 L391.0,510.0 L391.6,509.3 L392.1,507.6 L392.6,509.7 L393.1,511.5 L393.6,514.8 L394.2,519.3 L394.7,522.5 L395.2,524.5 L395.7,526.2 L396.2,527.4 L396.8,530.1 L397.3,533.3 L397.8,535.9 L398.3,538.1 L398.8,539.4 L399.4,538.5 L399.9,537.1 L400.4,534.1 L400.9,531.5 L401.4,529.4 L402.0,527.1 L402.5,525.1 L403.0,524.4 L403.5,522.3 L404.0,519.9 L404.6,515.8 L405.1,510.5 L405.6,507.3 L406.1,503.7 L406.6,502.4 L407.2,503.4 L407.7,507.0 L408.2,511.1 L408.7,516.6 L409.2,520.3 L409.8,523.6 L410.3,525.4 L410.8,526.0 L411.3,528.1 L411.8,531.9 L412.4,534.9 L412.9,537.7 L413.4,540.0 L413.9,541.3 L414.4,540.0 L415.0,538.1 L415.5,534.8 L416.0,532.1 L416.5,529.8 L417.0,527.5 L417.6,526.4 L418.1,525.2 L418.6,522.7 L419.1,519.6 L419.6,517.0 L420.2,514.5 L420.7,514.9 L421.2,515.9 L421.7,515.5 L422.2,515.4 L422.8,516.0 L423.3,517.4 L423.8,518.5 L424.3,520.8 L424.8,523.7 L425.4,525.8 L425.9,528.7 L426.4,529.1 L426.9,530.3 L427.4,530.7 L428.0,531.0 L428.5,532.3 L429.0,534.1 L429.5,535.5 L430.0,537.2 L430.6,539.0 L431.1,539.7 L431.6,541.2 L432.1,543.3 L432.6,544.7 L433.2,545.1 L433.7,545.5 L434.2,545.8 L434.7,546.8 L435.2,546.0 L435.8,546.0 L436.3,546.1 L436.8,546.6 L437.3,546.7 L437.8,546.0 L438.4,546.6 L438.9,545.9 L439.4,544.5 L439.9,543.1 L440.4,540.6 L441.0,539.2 L441.5,537.5 L442.0,535.2 L442.5,534.0 L443.0,533.1 L443.6,532.5 L444.1,530.8 L444.6,528.6 L445.1,526.7 L445.6,524.0 L446.2,521.9 L446.7,519.6 L447.2,517.8 L447.7,517.6 L448.2,517.4 L448.8,519.0 L449.3,520.0 L449.8,520.9 L450.3,523.8 L450.8,525.6 L451.4,526.7 L451.9,528.4 L452.4,528.7 L452.9,530.0 L453.4,529.4 L454.0,530.0 L454.5,531.0 L455.0,532.6 L455.5,534.1 L456.0,535.0 L456.6,536.5 L457.1,538.0 L457.6,539.2 L458.1,540.0 L458.6,540.4 L459.2,540.5 L459.7,540.2 L460.2,540.7 L460.7,539.9 L461.2,539.0 L461.8,538.1 L462.3,537.5 L462.8,536.9 L463.3,536.3 L463.8,535.4 L464.4,534.8 L464.9,534.0 L465.4,533.7 L465.9,533.1 L466.4,532.1 L467.0,531.0 L467.5,530.1 L468.0,528.5 L468.5,528.1 L469.0,526.1 L469.6,525.0 L470.1,524.5 L470.6,523.5 L471.1,522.7 L471.6,523.5 L472.2,523.7 L472.7,524.7 L473.2,525.4 L473.7,525.5 L474.2,527.3 L474.8,527.9 L475.3,528.0 L475.8,528.9 L476.3,529.7 L476.8,529.2 L477.4,529.9 L477.9,530.3 L478.4,531.4 L478.9,532.3 L479.4,533.5 L480.0,534.8 L480.5,536.3 L481.0,537.1 L481.5,536.8 L482.0,537.6 L482.6,538.5 L483.1,538.3 L483.6,540.0 L484.1,541.5 L484.6,542.3 L485.2,544.1 L485.7,545.2 L486.2,546.4 L486.7,547.8 L487.2,548.0 L487.8,549.0 L488.3,548.5 L488.8,548.5 L489.3,549.3 L489.8,549.0 L490.4,549.6 L490.9,549.3 L491.4,549.0 L491.9,549.5 L492.4,549.4 L493.0,549.5 L493.5,550.4 L494.0,549.3 L494.5,549.7 L495.0,550.4 L495.6,549.5 L496.1,550.0 L496.6,550.2 L497.1,549.2 L497.6,549.6 L498.2,549.3 L498.7,550.1 L499.2,549.2 L499.7,550.1 L500.2,549.8 L500.8,549.6 L501.3,550.0 L501.8,549.3 L502.3,549.8 L502.8,549.8 L503.4,549.3 L503.9,549.8 L504.4,549.3 L504.9,549.7 L505.4,549.5 L506.0,550.0 L506.5,549.6 L507.0,549.7" fill="none" stroke="#1FB1E6" stroke-width="1.3" stroke-linejoin="round"/>
<path d="M299.0,551.1 L299.5,550.8 L300.0,551.1 L300.6,550.8 L301.1,550.9 L301.6,550.8 L302.1,551.2 L302.6,551.1 L303.2,550.9 L303.7,550.8 L304.2,550.9 L304.7,551.3 L305.2,551.0 L305.8,551.3 L306.3,551.0 L306.8,550.9 L307.3,551.3 L307.8,550.9 L308.4,551.0 L308.9,551.2 L309.4,551.3 L309.9,551.2 L310.4,551.0 L311.0,551.1 L311.5,551.4 L312.0,551.4 L312.5,551.4 L313.0,551.0 L313.6,551.3 L314.1,551.1 L314.6,551.3 L315.1,551.1 L315.6,551.2 L316.2,551.4 L316.7,551.0 L317.2,551.1 L317.7,551.1 L318.2,551.0 L318.8,550.9 L319.3,551.4 L319.8,551.2 L320.3,551.3 L320.8,551.1 L321.4,550.9 L321.9,551.0 L322.4,551.4 L322.9,551.3 L323.4,550.9 L324.0,551.0 L324.5,551.1 L325.0,551.1 L325.5,551.2 L326.0,550.9 L326.6,551.1 L327.1,550.9 L327.6,551.0 L328.1,551.3 L328.6,551.1 L329.2,551.2 L329.7,550.8 L330.2,551.0 L330.7,551.2 L331.2,551.2 L331.8,551.1 L332.3,551.0 L332.8,550.9 L333.3,551.0 L333.8,551.1 L334.4,551.2 L334.9,550.9 L335.4,551.1 L335.9,551.2 L336.4,551.0 L337.0,550.7 L337.5,551.2 L338.0,551.2 L338.5,550.9 L339.0,551.1 L339.6,551.1 L340.1,551.0 L340.6,551.1 L341.1,551.0 L341.6,551.0 L342.2,550.8 L342.7,550.8 L343.2,551.3 L343.7,551.1 L344.2,551.0 L344.8,550.9 L345.3,551.0 L345.8,551.1 L346.3,551.1 L346.8,551.2 L347.4,551.3 L347.9,551.0 L348.4,551.0 L348.9,550.9 L349.4,551.1 L350.0,551.3 L350.5,551.0 L351.0,551.1 L351.5,551.2 L352.0,550.9 L352.6,550.6 L353.1,550.0 L353.6,549.3 L354.1,548.7 L354.6,547.8 L355.2,547.1 L355.7,546.2 L356.2,546.1 L356.7,545.9 L357.2,545.9 L357.8,545.9 L358.3,545.7 L358.8,545.7 L359.3,545.7 L359.8,545.2 L360.4,545.4 L360.9,545.5 L361.4,545.6 L361.9,546.0 L362.4,546.3 L363.0,546.8 L363.5,547.0 L364.0,547.4 L364.5,547.5 L365.0,548.0 L365.6,548.0 L366.1,548.5 L366.6,548.3 L367.1,548.5 L367.6,548.7 L368.2,548.7 L368.7,548.5 L369.2,548.3 L369.7,548.6 L370.2,548.1 L370.8,547.8 L371.3,546.9 L371.8,546.5 L372.3,545.4 L372.8,544.3 L373.4,543.9 L373.9,543.5 L374.4,543.3 L374.9,543.4 L375.4,543.7 L376.0,544.0 L376.5,544.9 L377.0,545.5 L377.5,546.3 L378.0,546.8 L378.6,547.3 L379.1,547.9 L379.6,548.5 L380.1,548.4 L380.6,548.3 L381.2,548.6 L381.7,549.0 L382.2,548.7 L382.7,548.9 L383.2,549.3 L383.8,549.6 L384.3,549.7 L384.8,549.7 L385.3,549.6 L385.8,549.8 L386.4,549.7 L386.9,550.0 L387.4,549.8 L387.9,549.4 L388.4,549.2 L389.0,549.0 L389.5,548.7 L390.0,548.7 L390.5,548.7 L391.0,548.1 L391.6,547.5 L392.1,546.0 L392.6,544.8 L393.1,543.4 L393.6,542.1 L394.2,541.5 L394.7,540.9 L395.2,541.5 L395.7,541.7 L396.2,542.8 L396.8,543.6 L397.3,545.2 L397.8,545.8 L398.3,546.4 L398.8,547.0 L399.4,547.2 L399.9,547.3 L400.4,547.6 L400.9,547.6 L401.4,548.2 L402.0,548.1 L402.5,548.5 L403.0,548.5 L403.5,548.4 L404.0,548.3 L404.6,548.0 L405.1,547.8 L405.6,547.6 L406.1,547.2 L406.6,547.2 L407.2,546.8 L407.7,546.7 L408.2,546.4 L408.7,545.9 L409.2,544.7 L409.8,543.5 L410.3,542.8 L410.8,542.2 L411.3,541.7 L411.8,541.8 L412.4,542.6 L412.9,543.4 L413.4,543.9 L413.9,544.6 L414.4,545.4 L415.0,546.2 L415.5,546.4 L416.0,547.0 L416.5,546.9 L417.0,547.7 L417.6,548.2 L418.1,548.5 L418.6,548.7 L419.1,548.4 L419.6,548.0 L420.2,547.8 L420.7,547.0 L421.2,546.8 L421.7,546.5 L422.2,546.2 L422.8,545.7 L423.3,545.4 L423.8,545.4 L424.3,545.0 L424.8,544.0 L425.4,543.8 L425.9,543.0 L426.4,543.1 L426.9,543.1 L427.4,543.5 L428.0,543.7 L428.5,544.3 L429.0,544.8 L429.5,545.0 L430.0,545.9 L430.6,546.0 L431.1,546.7 L431.6,546.7 L432.1,546.9 L432.6,546.8 L433.2,547.4 L433.7,547.5 L434.2,547.9 L434.7,548.1 L435.2,548.5 L435.8,549.2 L436.3,549.8 L436.8,550.2 L437.3,550.5 L437.8,550.6 L438.4,550.8 L438.9,550.8 L439.4,550.5 L439.9,550.6 L440.4,550.8 L441.0,550.4 L441.5,550.8 L442.0,550.6 L442.5,550.8 L443.0,550.5 L443.6,550.5 L444.1,550.8 L444.6,550.4 L445.1,550.0 L445.6,549.8 L446.2,549.2 L446.7,548.5 L447.2,547.7 L447.7,547.6 L448.2,547.0 L448.8,546.8 L449.3,546.7 L449.8,546.2 L450.3,545.5 L450.8,545.2 L451.4,544.2 L451.9,544.1 L452.4,543.6 L452.9,543.7 L453.4,544.3 L454.0,544.3 L454.5,544.6 L455.0,545.5 L455.5,546.1 L456.0,546.5 L456.6,546.4 L457.1,547.3 L457.6,547.0 L458.1,547.6 L458.6,547.3 L459.2,547.8 L459.7,548.0 L460.2,548.0 L460.7,548.6 L461.2,548.8 L461.8,548.9 L462.3,549.3 L462.8,549.5 L463.3,549.8 L463.8,550.5 L464.4,550.5 L464.9,550.3 L465.4,550.3 L465.9,550.4 L466.4,549.8 L467.0,549.7 L467.5,549.3 L468.0,549.2 L468.5,549.2 L469.0,548.5 L469.6,548.5 L470.1,547.7 L470.6,547.6 L471.1,546.8 L471.6,546.5 L472.2,546.1 L472.7,546.0 L473.2,545.8 L473.7,546.1 L474.2,545.8 L474.8,546.0 L475.3,546.3 L475.8,546.2 L476.3,546.2 L476.8,546.0 L477.4,546.4 L477.9,546.5 L478.4,546.1 L478.9,546.1 L479.4,546.2 L480.0,546.4 L480.5,546.3 L481.0,546.2 L481.5,546.2 L482.0,546.2 L482.6,545.9 L483.1,545.9 L483.6,545.8 L484.1,546.1 L484.6,546.5 L485.2,546.6 L485.7,547.0 L486.2,547.6 L486.7,548.0 L487.2,548.2 L487.8,548.2 L488.3,548.3 L488.8,548.6 L489.3,549.0 L489.8,549.3 L490.4,549.5 L490.9,549.4 L491.4,549.9 L491.9,550.0 L492.4,550.0 L493.0,550.1 L493.5,549.7 L494.0,550.2 L494.5,549.9 L495.0,549.8 L495.6,550.2 L496.1,550.0 L496.6,550.1 L497.1,550.2 L497.6,550.3 L498.2,550.3 L498.7,550.0 L499.2,550.0 L499.7,550.0 L500.2,550.5 L500.8,550.2 L501.3,550.4 L501.8,550.2 L502.3,550.3 L502.8,550.5 L503.4,550.1 L503.9,550.7 L504.4,550.3 L504.9,550.2 L505.4,550.4 L506.0,550.4 L506.5,550.2 L507.0,550.6" fill="none" stroke="#7030A0" stroke-width="1.3" stroke-linejoin="round"/>
<rect x="474.8" y="482.0" width="39.0" height="41.4" fill="#bfbfbf"/>
<line x1="477.5" x2="488.0" y1="488.7" y2="488.7" stroke="#7030A0" stroke-width="1.1"/>
<text x="489.0" y="492.3" font-size="10.2" fill="#4f4f4f">In %</text>
<line x1="477.5" x2="488.0" y1="502.7" y2="502.7" stroke="#1FB1E6" stroke-width="1.1"/>
<text x="489.0" y="506.3" font-size="10.2" fill="#4f4f4f">Al%</text>
<line x1="477.5" x2="488.0" y1="516.7" y2="516.7" stroke="#ED7D31" stroke-width="1.1"/>
<text x="489.0" y="520.3" font-size="10.2" fill="#4f4f4f">Ga%</text>
<text x="270.5" y="589.8" font-size="12" fill="#000">(f)</text>
</svg></body></html>
